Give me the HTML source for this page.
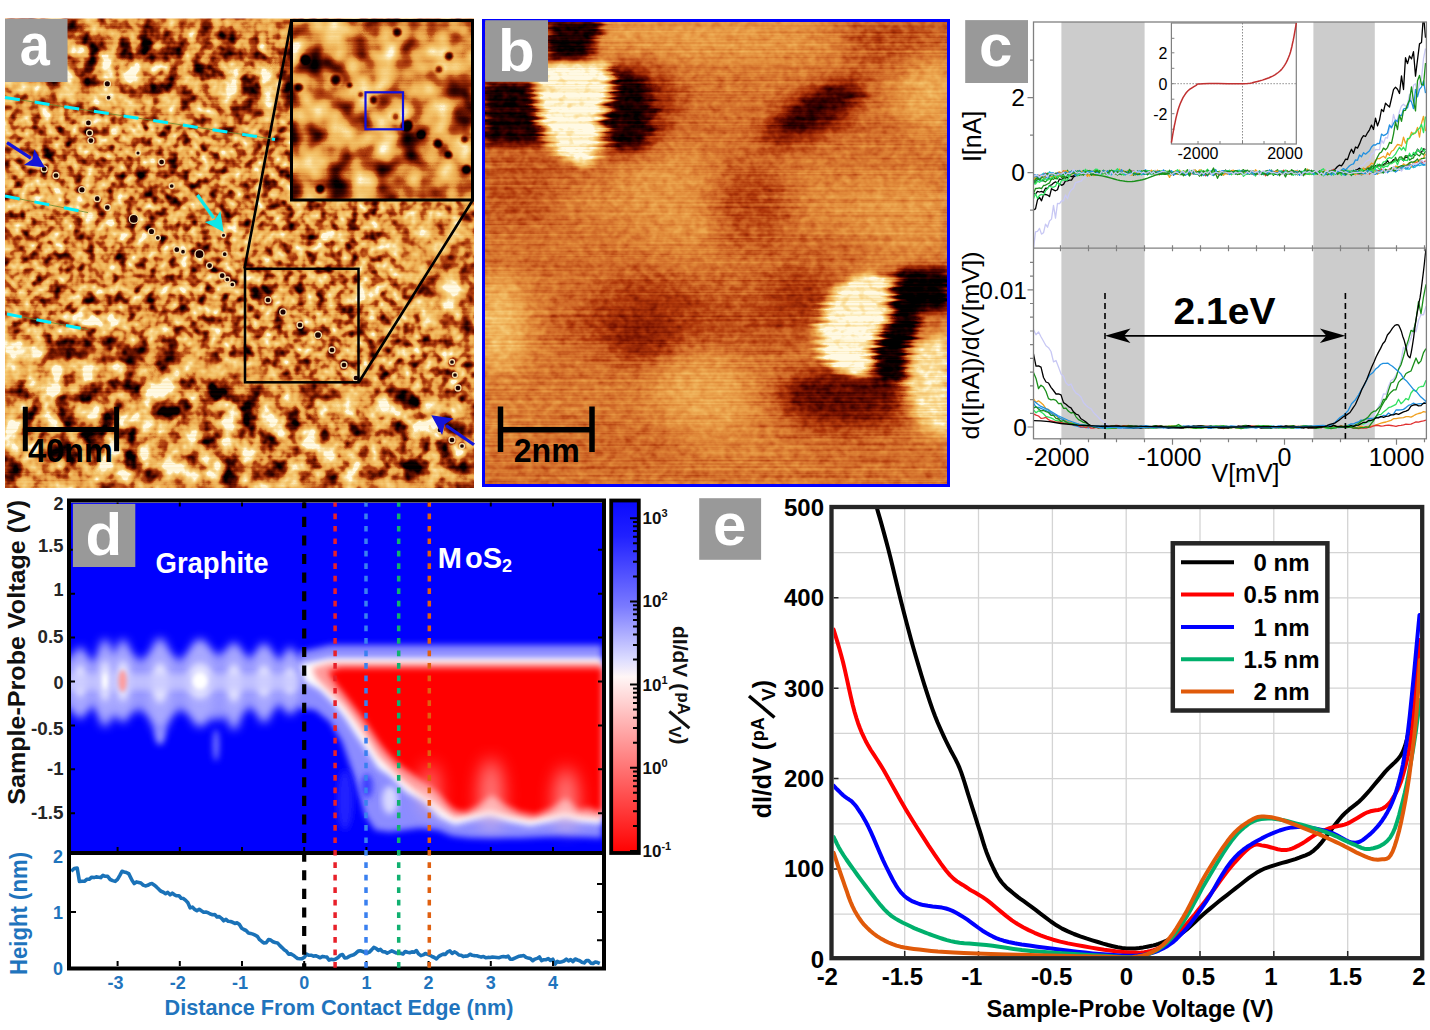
<!DOCTYPE html>
<html><head><meta charset="utf-8"><style>
html,body{margin:0;padding:0;background:#fff;}
body{width:1430px;height:1030px;overflow:hidden;font-family:"Liberation Sans",sans-serif;}
svg{display:block;}
</style></head><body>
<svg width="1430" height="1030" viewBox="0 0 1430 1030">
<defs><clipPath id="clipE"><rect x="833.7" y="509" width="586.3" height="447"/></clipPath></defs>
<path d="M904.7,509V956 M978.5,509V956 M1052.4,509V956 M1126.2,509V956 M1200.0,509V956 M1273.8,509V956 M1347.7,509V956 M833.7,914.2H1420 M833.7,869.0H1420 M833.7,823.8H1420 M833.7,778.6H1420 M833.7,733.4H1420 M833.7,688.2H1420 M833.7,643.0H1420 M833.7,597.8H1420 M833.7,552.6H1420" stroke="#d4d4d4" stroke-width="1.3" fill="none"/>
<path d="M904.7,956V951 M978.5,956V951 M1052.4,956V951 M1126.2,956V951 M1200.0,956V951 M1273.8,956V951 M1347.7,956V951 M833.7,869.0H838.5 M833.7,778.6H838.5 M833.7,688.2H838.5 M833.7,597.8H838.5" stroke="#262626" stroke-width="1.5" fill="none"/>
<g clip-path="url(#clipE)" fill="none" stroke-width="4" stroke-linejoin="round" stroke-linecap="round">
<polyline points="874.5,500.0 874.7,500.5 874.8,500.9 875.0,501.5 875.4,502.7 876.0,504.7 876.9,508.0 878.2,512.6 879.9,518.4 881.8,525.1 883.8,532.4 885.9,540.1 888.0,548.0 890.1,556.3 892.3,565.2 894.5,574.5 896.8,584.0 899.1,593.4 901.4,602.7 903.7,611.8 906.1,620.9 908.5,630.0 910.9,639.0 913.4,648.0 916.0,657.0 918.7,666.1 921.5,675.5 924.4,684.8 927.3,693.9 930.1,702.3 932.7,709.8 935.1,716.3 937.4,722.0 939.6,727.0 941.7,731.7 943.8,736.3 946.0,741.0 948.3,745.7 950.6,750.2 953.0,754.6 955.3,758.9 957.5,763.3 959.5,767.9 961.3,772.6 962.9,777.3 964.4,782.0 965.9,786.9 967.4,791.9 969.0,797.0 970.7,802.4 972.5,808.1 974.4,813.9 976.2,819.7 977.9,825.2 979.6,830.4 981.1,835.1 982.4,839.6 983.7,843.8 985.0,847.9 986.4,851.9 988.0,856.0 989.7,860.2 991.6,864.4 993.5,868.5 995.5,872.5 997.5,876.2 999.6,879.5 1001.7,882.3 1003.8,884.7 1005.9,886.9 1008.1,888.9 1010.5,890.9 1013.0,893.0 1015.6,895.1 1018.1,897.1 1020.8,899.1 1023.8,901.2 1027.1,903.6 1030.9,906.3 1035.3,909.6 1040.1,913.4 1045.4,917.4 1050.9,921.5 1056.5,925.3 1062.1,928.6 1067.9,931.4 1074.0,934.0 1080.2,936.3 1086.3,938.4 1092.3,940.3 1097.9,942.0 1103.1,943.6 1108.1,945.0 1112.9,946.2 1117.6,947.3 1122.1,948.0 1126.5,948.5 1130.9,948.6 1135.2,948.4 1139.3,948.0 1143.3,947.4 1147.1,946.7 1150.5,946.0 1153.5,945.4 1156.1,944.7 1158.4,943.9 1160.7,943.0 1163.0,942.1 1165.6,941.0 1168.3,939.9 1171.1,938.7 1174.0,937.5 1176.9,936.0 1180.0,934.3 1183.3,932.1 1186.8,929.4 1190.4,926.2 1194.2,922.8 1198.1,919.1 1202.0,915.5 1206.0,912.0 1210.1,908.6 1214.2,905.2 1218.4,901.8 1222.7,898.4 1227.0,895.1 1231.2,891.8 1235.5,888.4 1239.9,885.0 1244.3,881.5 1248.6,878.2 1252.6,875.3 1256.4,872.8 1259.7,870.9 1262.6,869.5 1265.2,868.3 1267.9,867.4 1270.8,866.4 1274.1,865.3 1278.0,864.1 1282.2,862.9 1286.7,861.7 1291.2,860.4 1295.4,859.1 1299.3,857.7 1302.6,856.4 1305.5,855.3 1308.2,854.2 1310.8,852.7 1313.7,850.6 1317.0,847.6 1320.8,843.4 1325.0,838.1 1329.4,832.3 1333.9,826.3 1338.2,820.7 1342.2,816.0 1345.8,812.4 1349.2,809.4 1352.5,806.9 1355.7,804.4 1358.9,801.7 1362.4,798.4 1366.1,794.4 1370.0,790.0 1373.9,785.3 1377.8,780.6 1381.6,776.1 1385.1,771.9 1388.4,768.4 1391.7,765.3 1394.8,762.4 1397.7,759.4 1400.4,755.9 1402.8,751.7 1404.8,746.5 1406.6,740.6 1408.0,734.3 1409.4,727.7 1410.7,721.2 1412.0,715.0 1413.4,708.7 1414.9,701.9 1416.3,695.2 1417.6,689.0 1418.7,683.8 1419.5,680.0" stroke="#000000"/>
<polyline points="833.6,629.5 834.6,632.8 836.0,637.3 837.6,642.6 839.4,648.7 841.2,655.2 843.0,662.0 844.8,669.6 846.7,678.1 848.7,687.2 850.7,696.2 852.7,704.7 854.6,712.0 856.4,718.0 858.1,723.2 859.8,727.8 861.5,732.1 863.5,736.4 865.7,741.0 868.2,745.6 870.8,750.0 873.7,754.4 876.7,759.0 880.0,764.1 883.6,770.0 887.4,776.7 891.5,784.1 895.9,792.0 900.5,800.2 905.3,808.6 910.4,817.0 916.0,826.0 922.2,835.7 928.6,845.7 935.0,855.2 940.9,863.6 946.0,870.5 950.2,875.4 953.8,878.9 957.0,881.3 959.9,883.2 962.8,884.9 966.0,887.0 969.2,889.2 972.3,891.1 975.5,892.8 978.7,894.7 982.3,896.9 986.3,899.6 990.8,903.1 995.7,907.2 1000.9,911.6 1006.4,916.1 1011.9,920.3 1017.5,924.0 1023.1,927.2 1028.7,930.1 1034.5,932.8 1040.5,935.3 1046.7,937.6 1053.2,939.7 1060.3,941.6 1067.9,943.4 1075.8,944.9 1083.6,946.3 1091.1,947.6 1097.9,948.7 1104.1,949.7 1110.0,950.5 1115.5,951.3 1120.6,951.8 1125.5,952.2 1130.0,952.5 1134.1,952.6 1137.8,952.7 1141.2,952.5 1144.3,952.2 1147.4,951.7 1150.5,951.0 1153.6,950.1 1156.5,949.0 1159.3,947.8 1162.1,946.2 1165.0,944.4 1168.1,942.2 1171.3,939.6 1174.6,936.5 1178.0,933.1 1181.5,929.5 1184.9,925.8 1188.3,922.0 1191.6,918.1 1194.9,914.2 1198.2,910.0 1201.6,905.8 1205.0,901.4 1208.5,896.8 1212.2,891.9 1216.0,886.7 1219.8,881.3 1223.7,876.0 1227.5,871.0 1231.2,866.5 1234.8,862.3 1238.4,858.3 1241.9,854.6 1245.3,851.3 1248.5,848.5 1251.4,846.4 1253.9,845.1 1255.9,844.6 1257.7,844.6 1259.5,844.9 1261.5,845.4 1264.0,845.8 1267.0,846.3 1270.4,847.2 1273.9,848.2 1277.6,849.2 1281.0,849.9 1284.2,850.1 1287.0,849.9 1289.5,849.4 1291.9,848.6 1294.3,847.6 1296.7,846.4 1299.3,845.1 1302.1,843.5 1305.1,841.6 1308.1,839.5 1311.2,837.4 1314.2,835.4 1317.0,833.7 1319.7,832.3 1322.2,831.1 1324.7,830.1 1327.2,829.1 1329.6,828.2 1332.1,827.4 1334.6,826.7 1337.0,826.2 1339.4,825.8 1341.9,825.3 1344.5,824.6 1347.3,823.6 1350.4,822.1 1353.9,820.1 1357.4,818.0 1361.0,815.8 1364.4,813.8 1367.5,812.3 1370.4,811.3 1373.1,810.7 1375.7,810.3 1378.1,810.0 1380.4,809.4 1382.6,808.5 1384.6,807.3 1386.3,806.1 1388.0,804.6 1389.5,802.9 1391.1,800.9 1392.7,798.4 1394.4,795.6 1396.1,792.6 1397.8,789.3 1399.5,785.4 1401.2,781.0 1402.8,775.7 1404.4,769.9 1406.0,763.8 1407.6,757.1 1409.1,749.4 1410.6,740.4 1412.0,730.0 1413.4,716.5 1414.9,699.9 1416.3,682.1 1417.6,665.0 1418.7,650.3 1419.5,640.0" stroke="#ff0000"/>
<polyline points="833.6,785.7 834.7,786.8 836.1,788.3 837.8,790.0 839.7,791.9 841.6,793.8 843.4,795.5 845.2,796.9 846.9,798.1 848.8,799.3 850.7,800.6 852.6,802.3 854.6,804.5 856.7,807.1 858.7,810.1 860.9,813.3 863.1,817.0 865.5,821.2 868.0,826.0 870.7,831.7 873.7,838.4 876.8,845.7 879.9,853.0 882.9,859.9 885.8,866.0 888.5,871.4 891.1,876.5 893.6,881.3 896.1,885.6 898.7,889.5 901.4,892.9 904.1,895.7 906.9,898.0 909.7,899.8 912.6,901.4 915.8,902.7 919.3,904.0 923.3,905.1 927.9,905.8 932.6,906.4 937.4,906.9 942.0,907.6 946.0,908.5 949.4,909.7 952.5,910.9 955.2,912.3 957.9,913.8 960.8,915.5 963.9,917.4 967.4,919.7 971.0,922.3 974.8,925.2 978.7,928.0 982.5,930.7 986.3,933.0 989.8,934.9 992.9,936.6 996.1,938.1 999.5,939.4 1003.6,940.7 1008.6,942.0 1014.7,943.3 1021.7,944.5 1029.4,945.6 1037.3,946.7 1045.4,947.7 1053.2,948.7 1061.0,949.7 1069.0,950.7 1077.0,951.7 1085.0,952.6 1092.7,953.4 1100.0,954.0 1107.0,954.6 1113.8,955.1 1120.3,955.5 1126.5,955.8 1132.4,955.8 1137.9,955.5 1142.9,954.9 1147.4,954.1 1151.6,953.1 1155.5,951.8 1159.3,950.3 1163.1,948.5 1166.7,946.5 1170.1,944.2 1173.4,941.8 1176.6,938.9 1179.8,935.7 1183.3,932.1 1186.9,928.0 1190.6,923.4 1194.3,918.5 1198.2,913.2 1202.0,907.7 1206.0,901.9 1210.1,895.5 1214.2,888.4 1218.4,881.1 1222.7,873.8 1227.0,867.2 1231.2,861.5 1235.3,856.9 1239.2,853.0 1243.2,849.7 1247.2,846.8 1251.6,844.1 1256.4,841.3 1261.7,838.4 1267.4,835.5 1273.5,832.8 1279.6,830.5 1285.8,828.6 1291.8,827.4 1297.8,826.9 1303.9,827.1 1310.1,827.7 1316.1,828.7 1321.8,829.9 1327.1,831.2 1332.0,832.9 1336.6,835.1 1341.0,837.5 1345.0,839.8 1348.8,841.6 1352.3,842.6 1355.4,842.7 1358.0,842.3 1360.4,841.4 1362.6,840.1 1364.9,838.4 1367.5,836.3 1370.4,833.9 1373.4,831.0 1376.5,827.7 1379.5,824.1 1382.4,820.2 1385.1,816.1 1387.5,811.9 1389.8,807.6 1391.9,803.0 1393.9,798.0 1395.9,792.3 1397.8,785.8 1399.6,779.0 1401.3,772.2 1402.9,764.8 1404.4,756.1 1406.1,745.6 1407.8,732.8 1409.8,715.6 1412.0,694.0 1414.3,670.6 1416.4,647.9 1418.2,628.6 1419.5,615.0" stroke="#0000ff"/>
<polyline points="833.6,837.0 834.5,838.8 835.7,841.2 837.1,844.1 838.8,847.4 840.9,851.0 843.4,855.0 846.4,859.5 849.9,864.5 853.8,869.9 857.8,875.5 861.8,880.9 865.7,886.0 869.4,890.9 873.1,895.8 876.8,900.6 880.6,905.2 884.3,909.3 888.0,913.0 891.7,916.1 895.5,918.6 899.2,920.8 902.9,922.7 906.7,924.5 910.4,926.3 914.1,928.1 917.8,929.7 921.6,931.2 925.3,932.6 929.0,934.0 932.7,935.3 936.3,936.6 939.8,937.8 943.3,939.0 946.9,940.1 950.8,941.1 955.0,942.0 959.5,942.7 964.3,943.2 969.3,943.5 974.5,943.9 980.2,944.4 986.3,945.0 992.7,945.8 999.3,946.8 1006.2,947.8 1013.7,948.9 1021.9,950.0 1030.9,950.9 1041.4,951.8 1053.3,952.7 1065.9,953.5 1078.4,954.3 1090.0,955.0 1100.0,955.5 1108.3,956.0 1115.4,956.5 1121.7,956.9 1127.4,957.2 1132.7,957.0 1137.9,956.5 1142.9,955.6 1147.4,954.4 1151.6,952.8 1155.5,950.9 1159.3,948.7 1163.1,946.0 1166.7,943.0 1170.1,939.6 1173.4,935.9 1176.6,931.7 1179.8,927.1 1183.3,922.0 1186.9,916.2 1190.6,909.8 1194.3,902.9 1198.2,895.7 1202.0,888.6 1206.0,881.7 1210.1,874.7 1214.4,867.4 1218.8,860.2 1223.1,853.2 1227.3,846.8 1231.2,841.3 1234.9,836.7 1238.3,832.8 1241.6,829.6 1244.9,826.8 1248.1,824.4 1251.4,822.4 1254.7,820.8 1257.9,819.7 1261.2,819.0 1264.5,818.7 1267.9,818.5 1271.6,818.6 1275.5,818.9 1279.4,819.5 1283.6,820.3 1287.8,821.3 1292.2,822.4 1296.8,823.6 1301.6,824.8 1306.7,826.2 1311.9,827.7 1317.2,829.2 1322.3,830.8 1327.1,832.5 1331.7,834.3 1336.2,836.3 1340.5,838.4 1344.6,840.4 1348.6,842.2 1352.3,843.8 1355.7,845.2 1358.7,846.6 1361.5,847.8 1364.2,848.7 1367.0,849.1 1370.0,848.9 1373.3,848.2 1376.8,847.3 1380.4,845.8 1383.9,843.8 1387.2,841.0 1390.2,837.5 1392.8,833.0 1395.1,827.7 1397.1,821.6 1399.1,815.1 1400.9,808.1 1402.8,800.9 1404.7,793.3 1406.5,785.1 1408.2,776.6 1409.8,767.8 1411.4,759.1 1412.9,750.5 1414.3,741.5 1415.8,731.8 1417.1,722.1 1418.3,713.1 1419.3,705.5 1420.0,700.0" stroke="#00b06c"/>
<polyline points="833.6,852.7 834.7,855.9 836.1,860.2 837.8,865.4 839.7,871.0 841.6,876.5 843.4,881.7 845.1,886.6 846.9,891.7 848.6,896.8 850.5,901.7 852.5,906.4 854.6,910.7 856.9,914.6 859.2,918.3 861.7,921.7 864.3,924.9 867.2,927.9 870.2,930.8 873.5,933.5 877.0,936.1 880.7,938.4 884.5,940.6 888.4,942.5 892.5,944.2 896.5,945.6 900.4,946.7 904.5,947.5 908.9,948.2 913.8,948.9 919.3,949.6 925.2,950.3 931.3,950.9 937.9,951.5 945.3,952.0 953.9,952.5 963.9,953.0 976.3,953.5 990.9,954.0 1006.6,954.4 1022.4,954.8 1037.3,955.2 1050.0,955.5 1060.6,955.8 1069.8,956.0 1078.0,956.2 1085.6,956.3 1092.8,956.4 1100.0,956.5 1107.2,956.7 1114.0,957.0 1120.5,957.3 1126.7,957.4 1132.5,957.2 1137.9,956.5 1142.9,955.4 1147.4,954.1 1151.6,952.4 1155.5,950.3 1159.3,947.8 1163.1,944.8 1166.7,941.3 1170.1,937.3 1173.4,932.9 1176.6,928.0 1179.8,922.7 1183.3,917.0 1186.9,910.7 1190.6,903.6 1194.3,896.1 1198.2,888.5 1202.0,881.0 1206.0,874.0 1210.1,867.2 1214.4,860.3 1218.8,853.5 1223.1,847.1 1227.3,841.3 1231.2,836.3 1234.9,832.2 1238.6,828.8 1242.1,825.9 1245.4,823.6 1248.5,821.6 1251.4,819.9 1253.9,818.5 1256.0,817.6 1257.9,817.0 1259.7,816.7 1261.7,816.6 1264.0,816.6 1266.5,816.7 1269.0,816.9 1271.6,817.3 1274.5,817.9 1277.8,818.7 1281.7,819.9 1286.4,821.5 1291.8,823.5 1297.6,825.7 1303.6,828.1 1309.3,830.4 1314.5,832.5 1319.1,834.4 1323.5,836.3 1327.6,838.2 1331.6,840.0 1335.6,841.9 1339.7,843.8 1344.0,845.9 1348.5,848.3 1353.0,850.6 1357.3,852.9 1361.4,854.8 1365.0,856.4 1368.1,857.6 1370.9,858.6 1373.3,859.2 1375.6,859.6 1377.8,859.7 1380.1,859.5 1382.3,859.3 1384.5,859.2 1386.6,858.8 1388.6,857.7 1390.6,855.3 1392.7,851.4 1394.8,845.7 1397.0,838.6 1399.2,830.4 1401.3,821.2 1403.3,811.3 1405.3,800.9 1407.2,789.6 1409.1,777.1 1410.8,764.0 1412.5,750.6 1414.1,737.5 1415.4,725.2 1416.5,713.0 1417.5,700.3 1418.3,687.9 1419.0,676.5 1419.6,667.0 1420.0,660.0" stroke="#e05a0a"/>
</g>
<rect x="831.5" y="507" width="590.7" height="451.2" fill="none" stroke="#262626" stroke-width="4.3"/>
<text x="824" y="967.8" font-family="Liberation Sans, sans-serif" font-size="24" font-weight="bold" fill="#000" text-anchor="end" >0</text>
<text x="824" y="877.4" font-family="Liberation Sans, sans-serif" font-size="24" font-weight="bold" fill="#000" text-anchor="end" >100</text>
<text x="824" y="787.0" font-family="Liberation Sans, sans-serif" font-size="24" font-weight="bold" fill="#000" text-anchor="end" >200</text>
<text x="824" y="696.6" font-family="Liberation Sans, sans-serif" font-size="24" font-weight="bold" fill="#000" text-anchor="end" >300</text>
<text x="824" y="606.2" font-family="Liberation Sans, sans-serif" font-size="24" font-weight="bold" fill="#000" text-anchor="end" >400</text>
<text x="824" y="515.8" font-family="Liberation Sans, sans-serif" font-size="24" font-weight="bold" fill="#000" text-anchor="end" >500</text>
<text x="827.3" y="985.2" font-family="Liberation Sans, sans-serif" font-size="24" font-weight="bold" fill="#000" text-anchor="middle" >-2</text>
<text x="902.4" y="985.2" font-family="Liberation Sans, sans-serif" font-size="24" font-weight="bold" fill="#000" text-anchor="middle" >-1.5</text>
<text x="971.8" y="985.2" font-family="Liberation Sans, sans-serif" font-size="24" font-weight="bold" fill="#000" text-anchor="middle" >-1</text>
<text x="1051.8" y="985.2" font-family="Liberation Sans, sans-serif" font-size="24" font-weight="bold" fill="#000" text-anchor="middle" >-0.5</text>
<text x="1126.5" y="985.2" font-family="Liberation Sans, sans-serif" font-size="24" font-weight="bold" fill="#000" text-anchor="middle" >0</text>
<text x="1198.5" y="985.2" font-family="Liberation Sans, sans-serif" font-size="24" font-weight="bold" fill="#000" text-anchor="middle" >0.5</text>
<text x="1271" y="985.2" font-family="Liberation Sans, sans-serif" font-size="24" font-weight="bold" fill="#000" text-anchor="middle" >1</text>
<text x="1345.5" y="985.2" font-family="Liberation Sans, sans-serif" font-size="24" font-weight="bold" fill="#000" text-anchor="middle" >1.5</text>
<text x="1419" y="985.2" font-family="Liberation Sans, sans-serif" font-size="24" font-weight="bold" fill="#000" text-anchor="middle" >2</text>
<text x="1130" y="1017" font-family="Liberation Sans, sans-serif" font-size="24" font-weight="bold" fill="#000" text-anchor="middle" textLength="287" lengthAdjust="spacingAndGlyphs">Sample-Probe Voltage (V)</text>
<g font-family="Liberation Sans, sans-serif" font-weight="bold" fill="#000"><text transform="translate(771,818.3) rotate(-90)" font-size="25">dI/dV (</text><text transform="translate(771,741.3) rotate(-90)" y="-7" font-size="18">pA</text><text transform="translate(771,701) rotate(-90)" y="4" font-size="19">V</text><text transform="translate(771,688.3) rotate(-90)" font-size="25">)</text></g>
<line x1="774.5" y1="717.5" x2="749" y2="696" stroke="#000" stroke-width="3.4"/>
<rect x="1172.8" y="543.3" width="154.6" height="167.2" fill="#fff" stroke="#262626" stroke-width="4.5"/>
<line x1="1181" y1="562.3" x2="1234" y2="562.3" stroke="#000000" stroke-width="4"/>
<text x="1281.5" y="570.9" font-family="Liberation Sans, sans-serif" font-size="24" font-weight="bold" fill="#000" text-anchor="middle" >0 nm</text>
<line x1="1181" y1="594.6" x2="1234" y2="594.6" stroke="#ff0000" stroke-width="4"/>
<text x="1281.5" y="603.2" font-family="Liberation Sans, sans-serif" font-size="24" font-weight="bold" fill="#000" text-anchor="middle" >0.5 nm</text>
<line x1="1181" y1="626.9" x2="1234" y2="626.9" stroke="#0000ff" stroke-width="4"/>
<text x="1281.5" y="635.5" font-family="Liberation Sans, sans-serif" font-size="24" font-weight="bold" fill="#000" text-anchor="middle" >1 nm</text>
<line x1="1181" y1="659.2" x2="1234" y2="659.2" stroke="#00b06c" stroke-width="4"/>
<text x="1281.5" y="667.8000000000001" font-family="Liberation Sans, sans-serif" font-size="24" font-weight="bold" fill="#000" text-anchor="middle" >1.5 nm</text>
<line x1="1181" y1="691.4" x2="1234" y2="691.4" stroke="#e05a0a" stroke-width="4"/>
<text x="1281.5" y="700.0" font-family="Liberation Sans, sans-serif" font-size="24" font-weight="bold" fill="#000" text-anchor="middle" >2 nm</text>
<rect x="699.2" y="498.2" width="61.9" height="61.6" fill="#999999"/>
<text x="729.65" y="544.5" font-family="Liberation Sans, sans-serif" font-weight="bold" font-size="60" fill="#ffffff" text-anchor="middle">e</text>
<rect x="965.2" y="20.1" width="62.8" height="62.9" fill="#999999"/>
<text x="995.8" y="66.4" font-family="Liberation Sans, sans-serif" font-weight="bold" font-size="60" fill="#ffffff" text-anchor="middle">c</text>
<defs><clipPath id="clipCt"><rect x="1033.5" y="22" width="392.9000000000001" height="226.2"/></clipPath><clipPath id="clipCb"><rect x="1033.5" y="248.2" width="392.9000000000001" height="190.60000000000002"/></clipPath></defs>
<rect x="1061.4" y="22" width="83.19999999999982" height="416.8" fill="#cccccc"/>
<rect x="1313.4" y="22" width="61.399999999999864" height="416.8" fill="#cccccc"/>
<g clip-path="url(#clipCt)" fill="none" stroke-linejoin="round">
<polyline points="1033.5,248.9 1035.5,231.9 1037.5,231.3 1039.5,228.4 1041.5,234.1 1043.5,232.8 1045.5,224.2 1047.5,227.2 1049.5,221.0 1051.5,219.1 1053.5,205.3 1055.5,218.1 1057.5,203.4 1059.5,203.7 1061.5,201.0 1063.5,200.9 1065.5,195.0 1067.5,198.8 1069.5,192.6 1071.5,189.7 1073.5,188.3 1075.5,182.7 1077.5,182.0 1079.5,181.5 1081.5,180.9 1083.5,177.8 1085.5,177.5 1087.5,174.1 1089.5,175.0 1091.5,173.0 1093.5,174.0 1095.5,172.2 1097.5,171.4 1099.5,172.1 1101.5,171.7 1103.5,173.5 1105.5,172.5 1107.5,173.9 1109.5,172.8 1111.5,171.5 1113.5,172.6 1115.5,172.5 1117.5,173.1 1119.5,171.0 1121.5,172.9 1123.5,173.5 1125.5,172.3 1127.5,172.0 1129.5,171.1 1131.5,173.5 1133.5,172.8 1135.5,172.8 1137.5,173.1 1139.5,172.3 1141.5,174.8 1143.5,171.6 1145.5,171.7 1147.5,172.0 1149.5,171.9 1151.5,173.0 1153.5,170.6 1155.5,170.3 1157.5,172.0 1159.5,172.4 1161.5,173.6 1163.5,172.5 1165.5,171.8 1167.5,173.9 1169.5,172.6 1171.5,173.3 1173.5,171.7 1175.5,173.7 1177.5,171.7 1179.5,171.1 1181.5,173.7 1183.5,174.0 1185.5,171.5 1187.5,173.9 1189.5,174.2 1191.5,172.3 1193.5,173.0 1195.5,171.9 1197.5,173.6 1199.5,171.8 1201.5,171.6 1203.5,173.5 1205.5,172.2 1207.5,172.0 1209.5,172.0 1211.5,171.7 1213.5,172.1 1215.5,172.9 1217.5,172.4 1219.5,172.9 1221.5,173.8 1223.5,173.7 1225.5,173.1 1227.5,172.7 1229.5,173.8 1231.5,172.5 1233.5,173.0 1235.5,173.6 1237.5,174.3 1239.5,173.1 1241.5,172.3 1243.5,172.8 1245.5,172.8 1247.5,171.3 1249.5,173.6 1251.5,173.7 1253.5,171.9 1255.5,174.7 1257.5,173.4 1259.5,173.8 1261.5,174.3 1263.5,172.5 1265.5,172.0 1267.5,172.7 1269.5,173.0 1271.5,173.2 1273.5,171.9 1275.5,171.8 1277.5,172.8 1279.5,171.7 1281.5,170.9 1283.5,172.5 1285.5,172.3 1287.5,172.4 1289.5,171.0 1291.5,174.8 1293.5,173.5 1295.5,172.8 1297.5,170.0 1299.5,173.8 1301.5,171.7 1303.5,172.8 1305.5,172.5 1307.5,172.0 1309.5,173.3 1311.5,173.4 1313.5,173.0 1315.5,172.4 1317.5,172.2 1319.5,171.9 1321.5,172.8 1323.5,172.4 1325.5,172.7 1327.5,169.6 1329.5,172.8 1331.5,173.3 1333.5,171.5 1335.5,172.5 1337.5,171.9 1339.5,174.0 1341.5,171.7 1343.5,172.0 1345.5,172.1 1347.5,172.7 1349.5,173.8 1351.5,173.5 1353.5,172.6 1355.5,170.4 1357.5,168.6 1359.5,166.7 1361.5,165.5 1363.5,164.9 1365.5,162.3 1367.5,160.6 1369.5,160.2 1371.5,154.1 1373.5,153.1 1375.5,149.5 1377.5,149.6 1379.5,149.5 1381.5,140.1 1383.5,143.3 1385.5,137.6 1387.5,138.0 1389.5,127.6 1391.5,127.6 1393.5,114.5 1395.5,121.7 1397.5,119.8 1399.5,111.4 1401.5,105.9 1403.5,104.3 1405.5,106.3 1407.5,104.7 1409.5,94.4 1411.5,102.4 1413.5,85.3 1415.5,83.8 1417.5,94.8 1419.5,81.8 1421.5,78.9 1423.5,58.7 1425.5,48.5" stroke="#c8c8f4" stroke-width="1.3"/>
<polyline points="1033.5,193.5 1035.5,194.2 1037.5,191.4 1039.5,192.0 1041.5,191.4 1043.5,192.3 1045.5,188.2 1047.5,188.5 1049.5,185.5 1051.5,184.9 1053.5,183.1 1055.5,181.8 1057.5,183.2 1059.5,179.0 1061.5,179.6 1063.5,178.2 1065.5,177.0 1067.5,177.8 1069.5,175.3 1071.5,176.7 1073.5,175.8 1075.5,174.3 1077.5,173.7 1079.5,173.9 1081.5,172.6 1083.5,172.1 1085.5,171.0 1087.5,172.0 1089.5,172.2 1091.5,172.9 1093.5,173.3 1095.5,174.1 1097.5,172.8 1099.5,172.2 1101.5,173.1 1103.5,172.9 1105.5,172.9 1107.5,173.3 1109.5,172.9 1111.5,174.2 1113.5,172.4 1115.5,171.4 1117.5,172.4 1119.5,172.3 1121.5,174.2 1123.5,172.6 1125.5,174.3 1127.5,173.2 1129.5,173.6 1131.5,172.7 1133.5,171.5 1135.5,171.6 1137.5,172.8 1139.5,172.4 1141.5,171.7 1143.5,171.6 1145.5,172.3 1147.5,173.2 1149.5,173.1 1151.5,173.0 1153.5,173.1 1155.5,172.0 1157.5,172.0 1159.5,172.3 1161.5,172.1 1163.5,173.3 1165.5,172.1 1167.5,172.5 1169.5,171.8 1171.5,172.5 1173.5,175.0 1175.5,172.5 1177.5,172.3 1179.5,172.1 1181.5,172.7 1183.5,174.4 1185.5,173.4 1187.5,172.0 1189.5,172.3 1191.5,172.6 1193.5,173.7 1195.5,172.5 1197.5,171.8 1199.5,172.8 1201.5,172.5 1203.5,172.4 1205.5,172.5 1207.5,172.9 1209.5,173.1 1211.5,172.8 1213.5,172.5 1215.5,171.7 1217.5,172.4 1219.5,173.0 1221.5,172.2 1223.5,172.0 1225.5,171.0 1227.5,171.7 1229.5,173.5 1231.5,172.2 1233.5,172.8 1235.5,171.6 1237.5,173.7 1239.5,173.4 1241.5,172.8 1243.5,172.4 1245.5,173.3 1247.5,172.7 1249.5,171.8 1251.5,173.5 1253.5,173.8 1255.5,173.3 1257.5,173.3 1259.5,173.3 1261.5,172.7 1263.5,173.0 1265.5,174.1 1267.5,172.7 1269.5,173.1 1271.5,172.8 1273.5,174.3 1275.5,173.3 1277.5,172.0 1279.5,172.3 1281.5,173.1 1283.5,170.9 1285.5,172.8 1287.5,172.4 1289.5,172.2 1291.5,172.7 1293.5,172.8 1295.5,172.7 1297.5,174.3 1299.5,173.5 1301.5,173.1 1303.5,173.0 1305.5,172.3 1307.5,172.4 1309.5,172.4 1311.5,172.6 1313.5,170.8 1315.5,171.2 1317.5,173.5 1319.5,172.6 1321.5,172.4 1323.5,171.8 1325.5,173.9 1327.5,172.6 1329.5,172.3 1331.5,173.7 1333.5,173.4 1335.5,173.3 1337.5,173.2 1339.5,172.8 1341.5,172.9 1343.5,173.1 1345.5,170.2 1347.5,171.7 1349.5,171.8 1351.5,171.1 1353.5,171.6 1355.5,170.2 1357.5,169.5 1359.5,168.1 1361.5,170.3 1363.5,168.8 1365.5,169.5 1367.5,168.0 1369.5,168.5 1371.5,167.1 1373.5,167.4 1375.5,165.8 1377.5,165.4 1379.5,165.8 1381.5,165.1 1383.5,164.5 1385.5,163.3 1387.5,160.6 1389.5,163.7 1391.5,162.2 1393.5,159.7 1395.5,160.1 1397.5,160.3 1399.5,159.6 1401.5,159.1 1403.5,160.8 1405.5,156.7 1407.5,157.8 1409.5,154.9 1411.5,156.4 1413.5,154.1 1415.5,155.0 1417.5,149.1 1419.5,151.9 1421.5,152.2 1423.5,148.8 1425.5,149.5" stroke="#000000" stroke-width="1.3"/>
<polyline points="1033.5,209.8 1035.5,208.8 1037.5,199.8 1039.5,197.4 1041.5,200.8 1043.5,194.7 1045.5,194.3 1047.5,195.1 1049.5,196.6 1051.5,188.7 1053.5,189.9 1055.5,190.8 1057.5,189.7 1059.5,183.8 1061.5,185.3 1063.5,184.3 1065.5,180.9 1067.5,180.8 1069.5,180.2 1071.5,180.1 1073.5,176.9 1075.5,176.0 1077.5,174.6 1079.5,175.4 1081.5,172.6 1083.5,172.7 1085.5,173.9 1087.5,171.7 1089.5,171.2 1091.5,171.9 1093.5,173.6 1095.5,171.1 1097.5,173.1 1099.5,174.0 1101.5,173.2 1103.5,172.6 1105.5,173.1 1107.5,171.5 1109.5,172.8 1111.5,173.2 1113.5,172.6 1115.5,172.2 1117.5,172.9 1119.5,172.0 1121.5,172.5 1123.5,172.6 1125.5,172.2 1127.5,172.9 1129.5,173.1 1131.5,171.1 1133.5,172.2 1135.5,173.0 1137.5,172.8 1139.5,173.7 1141.5,173.4 1143.5,173.2 1145.5,172.8 1147.5,172.1 1149.5,172.0 1151.5,172.0 1153.5,172.9 1155.5,172.8 1157.5,172.8 1159.5,173.3 1161.5,173.1 1163.5,171.9 1165.5,174.0 1167.5,172.4 1169.5,173.4 1171.5,172.6 1173.5,173.7 1175.5,172.4 1177.5,173.4 1179.5,172.9 1181.5,172.7 1183.5,172.8 1185.5,171.6 1187.5,171.9 1189.5,172.4 1191.5,173.5 1193.5,173.6 1195.5,173.7 1197.5,173.7 1199.5,172.3 1201.5,172.8 1203.5,173.6 1205.5,172.8 1207.5,173.1 1209.5,171.9 1211.5,173.2 1213.5,172.1 1215.5,173.5 1217.5,172.1 1219.5,172.5 1221.5,173.7 1223.5,172.8 1225.5,170.1 1227.5,173.8 1229.5,170.5 1231.5,173.4 1233.5,173.1 1235.5,171.8 1237.5,171.5 1239.5,173.2 1241.5,172.0 1243.5,172.5 1245.5,171.9 1247.5,173.2 1249.5,172.5 1251.5,173.6 1253.5,173.1 1255.5,172.5 1257.5,172.6 1259.5,172.9 1261.5,172.0 1263.5,173.1 1265.5,174.7 1267.5,170.9 1269.5,172.5 1271.5,172.2 1273.5,171.4 1275.5,173.6 1277.5,172.0 1279.5,173.5 1281.5,172.4 1283.5,171.6 1285.5,173.8 1287.5,173.4 1289.5,171.5 1291.5,173.6 1293.5,172.4 1295.5,173.0 1297.5,171.8 1299.5,172.9 1301.5,173.3 1303.5,172.9 1305.5,173.5 1307.5,172.4 1309.5,172.6 1311.5,171.8 1313.5,173.9 1315.5,173.6 1317.5,172.0 1319.5,171.9 1321.5,172.3 1323.5,173.1 1325.5,172.3 1327.5,172.0 1329.5,172.9 1331.5,170.3 1333.5,170.2 1335.5,168.8 1337.5,166.5 1339.5,165.1 1341.5,165.8 1343.5,163.0 1345.5,159.2 1347.5,159.5 1349.5,153.6 1351.5,149.3 1353.5,153.3 1355.5,147.0 1357.5,148.1 1359.5,143.9 1361.5,138.7 1363.5,135.7 1365.5,136.5 1367.5,132.8 1369.5,129.8 1371.5,125.1 1373.5,129.5 1375.5,118.1 1377.5,125.9 1379.5,120.1 1381.5,109.5 1383.5,111.5 1385.5,103.1 1387.5,105.3 1389.5,107.0 1391.5,98.5 1393.5,89.6 1395.5,87.2 1397.5,89.2 1399.5,93.5 1401.5,75.9 1403.5,89.5 1405.5,57.7 1407.5,63.6 1409.5,56.0 1411.5,58.9 1413.5,51.7 1415.5,76.1 1417.5,59.9 1419.5,43.9 1421.5,42.5 1423.5,14.5 1425.5,37.8" stroke="#000000" stroke-width="1.3"/>
<polyline points="1033.5,181.2 1035.5,178.0 1037.5,179.1 1039.5,177.6 1041.5,176.4 1043.5,177.6 1045.5,177.8 1047.5,176.5 1049.5,176.2 1051.5,176.9 1053.5,175.9 1055.5,174.3 1057.5,172.6 1059.5,171.8 1061.5,173.8 1063.5,170.6 1065.5,172.0 1067.5,172.9 1069.5,173.6 1071.5,174.7 1073.5,170.6 1075.5,172.2 1077.5,173.4 1079.5,172.6 1081.5,173.1 1083.5,173.4 1085.5,173.9 1087.5,176.4 1089.5,170.5 1091.5,172.3 1093.5,170.9 1095.5,170.7 1097.5,170.6 1099.5,173.9 1101.5,174.4 1103.5,173.7 1105.5,170.9 1107.5,172.8 1109.5,170.9 1111.5,171.5 1113.5,171.8 1115.5,172.1 1117.5,171.6 1119.5,169.1 1121.5,171.5 1123.5,173.1 1125.5,172.7 1127.5,170.6 1129.5,174.4 1131.5,171.9 1133.5,172.3 1135.5,175.2 1137.5,172.1 1139.5,171.6 1141.5,173.3 1143.5,172.3 1145.5,172.2 1147.5,171.3 1149.5,171.6 1151.5,173.0 1153.5,174.1 1155.5,174.2 1157.5,170.1 1159.5,172.8 1161.5,172.3 1163.5,172.1 1165.5,170.7 1167.5,173.2 1169.5,177.4 1171.5,172.9 1173.5,172.9 1175.5,174.1 1177.5,174.1 1179.5,172.6 1181.5,172.6 1183.5,170.6 1185.5,173.2 1187.5,171.3 1189.5,173.3 1191.5,171.7 1193.5,172.1 1195.5,173.2 1197.5,172.2 1199.5,172.2 1201.5,173.9 1203.5,172.6 1205.5,172.5 1207.5,173.0 1209.5,174.3 1211.5,172.0 1213.5,172.0 1215.5,174.1 1217.5,172.0 1219.5,172.3 1221.5,171.5 1223.5,171.7 1225.5,173.7 1227.5,174.1 1229.5,171.6 1231.5,170.7 1233.5,170.2 1235.5,172.0 1237.5,173.3 1239.5,172.6 1241.5,174.4 1243.5,173.6 1245.5,174.5 1247.5,173.9 1249.5,172.5 1251.5,172.6 1253.5,172.4 1255.5,174.0 1257.5,171.4 1259.5,173.6 1261.5,174.1 1263.5,173.0 1265.5,172.2 1267.5,171.6 1269.5,172.8 1271.5,173.1 1273.5,171.9 1275.5,173.5 1277.5,174.5 1279.5,172.3 1281.5,171.2 1283.5,173.1 1285.5,172.5 1287.5,172.4 1289.5,174.4 1291.5,172.4 1293.5,173.6 1295.5,170.9 1297.5,171.0 1299.5,172.9 1301.5,173.4 1303.5,172.6 1305.5,172.0 1307.5,174.0 1309.5,174.7 1311.5,173.6 1313.5,174.6 1315.5,173.1 1317.5,172.6 1319.5,171.4 1321.5,171.9 1323.5,173.9 1325.5,174.3 1327.5,172.2 1329.5,171.5 1331.5,171.7 1333.5,172.9 1335.5,172.6 1337.5,174.0 1339.5,173.3 1341.5,173.7 1343.5,172.1 1345.5,174.3 1347.5,172.1 1349.5,171.4 1351.5,171.5 1353.5,172.2 1355.5,172.8 1357.5,171.8 1359.5,171.5 1361.5,171.3 1363.5,167.9 1365.5,170.4 1367.5,166.8 1369.5,165.9 1371.5,163.1 1373.5,164.2 1375.5,160.4 1377.5,158.6 1379.5,158.6 1381.5,157.3 1383.5,156.2 1385.5,158.1 1387.5,152.7 1389.5,155.3 1391.5,151.3 1393.5,150.2 1395.5,147.1 1397.5,144.5 1399.5,144.8 1401.5,146.1 1403.5,137.1 1405.5,143.2 1407.5,140.3 1409.5,138.4 1411.5,132.2 1413.5,134.2 1415.5,132.7 1417.5,127.4 1419.5,137.1 1421.5,123.3 1423.5,116.3 1425.5,131.1" stroke="#f0a020" stroke-width="1.3"/>
<polyline points="1033.5,183.8 1035.5,180.6 1037.5,180.0 1039.5,179.7 1041.5,181.0 1043.5,180.1 1045.5,177.4 1047.5,178.2 1049.5,176.1 1051.5,174.9 1053.5,174.8 1055.5,174.4 1057.5,175.7 1059.5,175.8 1061.5,174.6 1063.5,173.7 1065.5,174.3 1067.5,173.8 1069.5,173.0 1071.5,171.5 1073.5,171.0 1075.5,176.0 1077.5,173.2 1079.5,173.7 1081.5,173.0 1083.5,172.2 1085.5,172.7 1087.5,172.9 1089.5,174.1 1091.5,172.3 1093.5,171.2 1095.5,172.4 1097.5,173.6 1099.5,174.2 1101.5,173.4 1103.5,170.7 1105.5,172.3 1107.5,173.3 1109.5,171.3 1111.5,173.9 1113.5,170.7 1115.5,171.8 1117.5,169.8 1119.5,171.1 1121.5,174.4 1123.5,172.8 1125.5,172.2 1127.5,173.3 1129.5,172.7 1131.5,172.8 1133.5,172.7 1135.5,171.7 1137.5,171.7 1139.5,173.1 1141.5,174.8 1143.5,171.5 1145.5,169.8 1147.5,171.4 1149.5,172.8 1151.5,172.8 1153.5,172.2 1155.5,173.4 1157.5,173.0 1159.5,172.4 1161.5,171.4 1163.5,173.7 1165.5,172.8 1167.5,172.9 1169.5,172.9 1171.5,171.9 1173.5,173.9 1175.5,174.2 1177.5,171.5 1179.5,173.5 1181.5,173.1 1183.5,172.1 1185.5,171.4 1187.5,174.4 1189.5,174.2 1191.5,172.8 1193.5,173.5 1195.5,174.3 1197.5,171.8 1199.5,172.8 1201.5,172.7 1203.5,173.5 1205.5,172.0 1207.5,172.6 1209.5,173.2 1211.5,172.6 1213.5,172.2 1215.5,172.8 1217.5,173.4 1219.5,174.5 1221.5,174.1 1223.5,173.8 1225.5,171.9 1227.5,170.9 1229.5,171.4 1231.5,174.0 1233.5,173.2 1235.5,170.8 1237.5,173.8 1239.5,170.3 1241.5,172.2 1243.5,171.7 1245.5,171.4 1247.5,173.6 1249.5,174.4 1251.5,172.8 1253.5,174.8 1255.5,173.2 1257.5,172.2 1259.5,172.8 1261.5,174.0 1263.5,174.1 1265.5,173.1 1267.5,173.5 1269.5,169.9 1271.5,171.7 1273.5,172.0 1275.5,172.9 1277.5,175.0 1279.5,172.1 1281.5,172.6 1283.5,172.7 1285.5,173.6 1287.5,172.9 1289.5,172.4 1291.5,171.9 1293.5,173.3 1295.5,173.2 1297.5,172.6 1299.5,173.3 1301.5,171.3 1303.5,172.5 1305.5,169.8 1307.5,172.2 1309.5,173.8 1311.5,171.7 1313.5,172.1 1315.5,172.9 1317.5,172.6 1319.5,173.2 1321.5,170.6 1323.5,172.5 1325.5,173.9 1327.5,172.8 1329.5,173.3 1331.5,172.4 1333.5,173.0 1335.5,173.5 1337.5,171.8 1339.5,171.1 1341.5,170.0 1343.5,168.6 1345.5,170.0 1347.5,167.9 1349.5,165.7 1351.5,164.5 1353.5,163.9 1355.5,159.8 1357.5,160.3 1359.5,154.9 1361.5,156.7 1363.5,152.7 1365.5,154.2 1367.5,152.4 1369.5,150.7 1371.5,147.0 1373.5,145.0 1375.5,145.0 1377.5,143.4 1379.5,143.6 1381.5,134.1 1383.5,135.7 1385.5,134.7 1387.5,133.0 1389.5,124.9 1391.5,127.8 1393.5,123.5 1395.5,120.1 1397.5,121.7 1399.5,115.2 1401.5,115.6 1403.5,109.1 1405.5,108.3 1407.5,107.9 1409.5,99.8 1411.5,101.9 1413.5,108.7 1415.5,89.4 1417.5,96.8 1419.5,89.3 1421.5,86.8 1423.5,80.9 1425.5,93.1" stroke="#2090e0" stroke-width="1.3"/>
<polyline points="1033.5,198.7 1035.5,193.7 1037.5,198.4 1039.5,195.3 1041.5,194.4 1043.5,195.0 1045.5,190.9 1047.5,188.7 1049.5,186.0 1051.5,187.1 1053.5,187.1 1055.5,186.2 1057.5,182.0 1059.5,185.2 1061.5,180.2 1063.5,179.9 1065.5,180.4 1067.5,179.8 1069.5,175.9 1071.5,173.8 1073.5,173.2 1075.5,172.7 1077.5,176.0 1079.5,175.0 1081.5,173.8 1083.5,172.3 1085.5,173.0 1087.5,170.3 1089.5,174.9 1091.5,172.4 1093.5,172.8 1095.5,173.4 1097.5,172.4 1099.5,170.4 1101.5,172.3 1103.5,171.8 1105.5,173.6 1107.5,172.7 1109.5,172.1 1111.5,173.4 1113.5,171.8 1115.5,173.4 1117.5,172.6 1119.5,173.3 1121.5,173.5 1123.5,171.2 1125.5,173.0 1127.5,172.3 1129.5,170.6 1131.5,173.4 1133.5,172.4 1135.5,173.6 1137.5,172.7 1139.5,174.7 1141.5,174.1 1143.5,172.6 1145.5,171.9 1147.5,173.3 1149.5,171.3 1151.5,172.7 1153.5,173.5 1155.5,173.0 1157.5,172.9 1159.5,171.9 1161.5,170.8 1163.5,172.1 1165.5,173.3 1167.5,171.1 1169.5,172.3 1171.5,173.1 1173.5,171.8 1175.5,172.1 1177.5,173.5 1179.5,174.0 1181.5,172.5 1183.5,170.6 1185.5,172.6 1187.5,173.7 1189.5,175.2 1191.5,171.7 1193.5,171.2 1195.5,170.1 1197.5,172.1 1199.5,172.4 1201.5,173.9 1203.5,174.5 1205.5,171.9 1207.5,169.2 1209.5,172.3 1211.5,173.9 1213.5,171.6 1215.5,173.6 1217.5,172.9 1219.5,171.1 1221.5,173.0 1223.5,173.9 1225.5,171.3 1227.5,172.1 1229.5,172.7 1231.5,174.8 1233.5,172.4 1235.5,171.1 1237.5,172.5 1239.5,171.5 1241.5,171.7 1243.5,176.4 1245.5,174.1 1247.5,172.1 1249.5,174.0 1251.5,173.1 1253.5,173.2 1255.5,176.0 1257.5,172.9 1259.5,170.6 1261.5,172.8 1263.5,174.7 1265.5,173.0 1267.5,172.2 1269.5,174.1 1271.5,173.5 1273.5,173.4 1275.5,171.8 1277.5,171.8 1279.5,171.2 1281.5,170.8 1283.5,171.4 1285.5,170.1 1287.5,170.9 1289.5,173.2 1291.5,172.5 1293.5,171.2 1295.5,172.0 1297.5,173.0 1299.5,172.1 1301.5,174.3 1303.5,173.1 1305.5,172.4 1307.5,173.5 1309.5,174.3 1311.5,171.5 1313.5,174.0 1315.5,172.1 1317.5,172.2 1319.5,173.0 1321.5,169.9 1323.5,168.8 1325.5,172.0 1327.5,173.3 1329.5,174.3 1331.5,174.3 1333.5,172.7 1335.5,173.4 1337.5,172.2 1339.5,173.0 1341.5,173.3 1343.5,173.4 1345.5,175.4 1347.5,170.1 1349.5,174.4 1351.5,171.0 1353.5,172.6 1355.5,170.8 1357.5,172.0 1359.5,172.9 1361.5,172.4 1363.5,173.4 1365.5,173.3 1367.5,172.6 1369.5,171.8 1371.5,168.5 1373.5,166.3 1375.5,168.2 1377.5,164.1 1379.5,165.4 1381.5,164.8 1383.5,161.9 1385.5,161.7 1387.5,158.6 1389.5,157.7 1391.5,158.4 1393.5,156.4 1395.5,154.1 1397.5,150.5 1399.5,147.3 1401.5,150.0 1403.5,147.2 1405.5,150.8 1407.5,138.6 1409.5,138.2 1411.5,135.0 1413.5,133.2 1415.5,132.8 1417.5,129.9 1419.5,128.3 1421.5,124.4 1423.5,132.7 1425.5,116.5" stroke="#30e060" stroke-width="1.3"/>
<polyline points="1033.5,174.4 1035.5,178.2 1037.5,175.2 1039.5,175.3 1041.5,176.3 1043.5,173.8 1045.5,173.1 1047.5,174.0 1049.5,173.3 1051.5,173.7 1053.5,174.7 1055.5,173.7 1057.5,173.0 1059.5,173.1 1061.5,173.9 1063.5,171.5 1065.5,171.7 1067.5,172.1 1069.5,173.2 1071.5,172.6 1073.5,173.2 1075.5,173.2 1077.5,174.1 1079.5,174.6 1081.5,174.1 1083.5,171.5 1085.5,172.1 1087.5,171.4 1089.5,171.4 1091.5,172.2 1093.5,171.0 1095.5,172.2 1097.5,173.8 1099.5,172.3 1101.5,172.4 1103.5,173.0 1105.5,173.6 1107.5,173.2 1109.5,172.0 1111.5,172.3 1113.5,172.5 1115.5,173.2 1117.5,173.5 1119.5,171.4 1121.5,172.0 1123.5,172.5 1125.5,174.0 1127.5,172.4 1129.5,172.5 1131.5,173.6 1133.5,170.7 1135.5,173.2 1137.5,172.8 1139.5,173.3 1141.5,172.6 1143.5,173.2 1145.5,171.0 1147.5,172.3 1149.5,172.3 1151.5,172.2 1153.5,172.7 1155.5,171.3 1157.5,173.4 1159.5,174.8 1161.5,172.0 1163.5,171.4 1165.5,172.9 1167.5,173.2 1169.5,173.1 1171.5,173.2 1173.5,174.0 1175.5,172.3 1177.5,174.1 1179.5,171.1 1181.5,173.6 1183.5,174.2 1185.5,174.0 1187.5,171.3 1189.5,172.3 1191.5,172.1 1193.5,172.7 1195.5,173.0 1197.5,174.2 1199.5,172.6 1201.5,171.6 1203.5,172.9 1205.5,175.8 1207.5,173.6 1209.5,173.5 1211.5,173.4 1213.5,171.1 1215.5,172.8 1217.5,173.6 1219.5,175.1 1221.5,173.1 1223.5,173.1 1225.5,173.6 1227.5,173.2 1229.5,172.5 1231.5,171.2 1233.5,173.1 1235.5,172.4 1237.5,171.9 1239.5,173.0 1241.5,172.7 1243.5,171.3 1245.5,173.8 1247.5,173.2 1249.5,171.1 1251.5,171.8 1253.5,174.3 1255.5,174.1 1257.5,174.4 1259.5,171.3 1261.5,172.6 1263.5,172.0 1265.5,175.8 1267.5,173.9 1269.5,171.8 1271.5,172.1 1273.5,172.1 1275.5,171.2 1277.5,172.9 1279.5,173.7 1281.5,174.0 1283.5,170.2 1285.5,172.6 1287.5,171.0 1289.5,173.9 1291.5,170.9 1293.5,172.4 1295.5,172.7 1297.5,171.8 1299.5,172.1 1301.5,173.8 1303.5,172.7 1305.5,172.8 1307.5,172.6 1309.5,171.1 1311.5,172.0 1313.5,171.6 1315.5,171.9 1317.5,173.9 1319.5,173.5 1321.5,172.7 1323.5,171.7 1325.5,172.9 1327.5,173.3 1329.5,173.4 1331.5,173.3 1333.5,169.4 1335.5,173.1 1337.5,171.7 1339.5,173.4 1341.5,171.6 1343.5,171.9 1345.5,174.9 1347.5,171.3 1349.5,173.4 1351.5,174.1 1353.5,171.7 1355.5,172.7 1357.5,173.9 1359.5,174.2 1361.5,172.4 1363.5,172.7 1365.5,172.6 1367.5,170.7 1369.5,174.1 1371.5,171.2 1373.5,169.8 1375.5,170.2 1377.5,170.4 1379.5,171.0 1381.5,169.0 1383.5,170.4 1385.5,169.6 1387.5,171.4 1389.5,169.0 1391.5,170.4 1393.5,167.2 1395.5,168.3 1397.5,167.2 1399.5,166.7 1401.5,167.8 1403.5,168.2 1405.5,167.3 1407.5,164.8 1409.5,165.0 1411.5,165.1 1413.5,163.2 1415.5,162.6 1417.5,162.0 1419.5,161.0 1421.5,161.9 1423.5,162.9 1425.5,160.6" stroke="#e03030" stroke-width="1.3"/>
<polyline points="1033.5,176.6 1035.5,177.6 1037.5,174.7 1039.5,178.9 1041.5,175.1 1043.5,173.2 1045.5,175.5 1047.5,174.3 1049.5,171.8 1051.5,174.0 1053.5,173.6 1055.5,174.5 1057.5,174.1 1059.5,173.4 1061.5,173.7 1063.5,172.1 1065.5,172.6 1067.5,173.2 1069.5,172.4 1071.5,172.5 1073.5,172.8 1075.5,171.0 1077.5,174.4 1079.5,174.4 1081.5,171.7 1083.5,170.5 1085.5,173.6 1087.5,172.0 1089.5,171.4 1091.5,171.4 1093.5,172.5 1095.5,175.4 1097.5,173.8 1099.5,172.5 1101.5,171.9 1103.5,170.8 1105.5,171.4 1107.5,175.0 1109.5,174.4 1111.5,174.8 1113.5,171.5 1115.5,170.7 1117.5,174.4 1119.5,172.2 1121.5,172.9 1123.5,172.6 1125.5,171.8 1127.5,173.3 1129.5,174.7 1131.5,173.9 1133.5,171.5 1135.5,171.8 1137.5,175.2 1139.5,174.2 1141.5,173.6 1143.5,174.4 1145.5,174.1 1147.5,174.4 1149.5,173.7 1151.5,174.4 1153.5,173.6 1155.5,173.3 1157.5,172.1 1159.5,173.9 1161.5,174.1 1163.5,172.3 1165.5,172.2 1167.5,171.6 1169.5,174.1 1171.5,171.7 1173.5,173.7 1175.5,173.0 1177.5,173.2 1179.5,171.9 1181.5,171.4 1183.5,172.9 1185.5,171.9 1187.5,173.4 1189.5,175.6 1191.5,172.0 1193.5,172.3 1195.5,172.5 1197.5,173.6 1199.5,173.1 1201.5,172.9 1203.5,172.6 1205.5,172.3 1207.5,172.4 1209.5,172.2 1211.5,170.5 1213.5,172.3 1215.5,171.7 1217.5,173.2 1219.5,172.8 1221.5,175.3 1223.5,172.9 1225.5,172.2 1227.5,171.6 1229.5,172.7 1231.5,173.2 1233.5,173.2 1235.5,171.8 1237.5,170.5 1239.5,170.5 1241.5,173.5 1243.5,174.0 1245.5,172.2 1247.5,172.0 1249.5,171.3 1251.5,172.8 1253.5,173.7 1255.5,173.5 1257.5,172.8 1259.5,171.4 1261.5,173.4 1263.5,173.4 1265.5,172.4 1267.5,172.2 1269.5,174.0 1271.5,173.2 1273.5,175.0 1275.5,172.8 1277.5,173.2 1279.5,172.7 1281.5,171.4 1283.5,173.3 1285.5,173.0 1287.5,172.0 1289.5,172.5 1291.5,172.5 1293.5,171.4 1295.5,174.9 1297.5,171.6 1299.5,172.2 1301.5,172.8 1303.5,171.1 1305.5,174.6 1307.5,172.9 1309.5,170.8 1311.5,172.0 1313.5,174.5 1315.5,174.4 1317.5,171.6 1319.5,173.2 1321.5,172.7 1323.5,172.5 1325.5,173.4 1327.5,172.1 1329.5,172.8 1331.5,172.2 1333.5,172.7 1335.5,173.3 1337.5,172.8 1339.5,172.5 1341.5,173.0 1343.5,173.5 1345.5,175.3 1347.5,171.1 1349.5,172.3 1351.5,171.4 1353.5,170.2 1355.5,171.4 1357.5,173.2 1359.5,173.6 1361.5,175.2 1363.5,170.3 1365.5,173.8 1367.5,172.4 1369.5,172.6 1371.5,172.5 1373.5,170.5 1375.5,169.5 1377.5,171.3 1379.5,172.8 1381.5,170.3 1383.5,170.5 1385.5,171.3 1387.5,170.1 1389.5,170.6 1391.5,170.8 1393.5,170.4 1395.5,166.6 1397.5,168.8 1399.5,170.2 1401.5,169.1 1403.5,166.9 1405.5,169.0 1407.5,169.0 1409.5,169.2 1411.5,166.2 1413.5,167.7 1415.5,166.8 1417.5,164.5 1419.5,165.6 1421.5,164.9 1423.5,164.6 1425.5,165.5" stroke="#20c0d0" stroke-width="1.3"/>
<polyline points="1033.5,193.6 1035.5,188.5 1037.5,188.4 1039.5,187.8 1041.5,188.6 1043.5,185.5 1045.5,185.1 1047.5,184.0 1049.5,182.9 1051.5,178.5 1053.5,179.4 1055.5,177.5 1057.5,177.3 1059.5,175.3 1061.5,177.4 1063.5,175.7 1065.5,178.7 1067.5,172.0 1069.5,174.5 1071.5,171.1 1073.5,173.4 1075.5,171.9 1077.5,172.8 1079.5,171.3 1081.5,174.9 1083.5,173.2 1085.5,173.2 1087.5,173.8 1089.5,170.5 1091.5,173.3 1093.5,175.3 1095.5,172.2 1097.5,172.5 1099.5,170.7 1101.5,172.4 1103.5,172.3 1105.5,172.0 1107.5,173.4 1109.5,174.3 1111.5,172.3 1113.5,173.6 1115.5,172.0 1117.5,173.1 1119.5,173.4 1121.5,174.2 1123.5,174.1 1125.5,172.0 1127.5,173.7 1129.5,173.9 1131.5,173.9 1133.5,172.3 1135.5,172.0 1137.5,174.3 1139.5,174.4 1141.5,170.7 1143.5,172.1 1145.5,170.8 1147.5,174.9 1149.5,172.4 1151.5,173.8 1153.5,171.3 1155.5,173.9 1157.5,171.8 1159.5,170.8 1161.5,172.5 1163.5,174.4 1165.5,174.3 1167.5,173.6 1169.5,173.6 1171.5,172.2 1173.5,172.6 1175.5,171.7 1177.5,173.5 1179.5,174.5 1181.5,174.6 1183.5,173.3 1185.5,174.1 1187.5,173.0 1189.5,171.7 1191.5,172.1 1193.5,172.6 1195.5,172.9 1197.5,173.0 1199.5,175.5 1201.5,173.4 1203.5,173.6 1205.5,173.5 1207.5,170.2 1209.5,171.4 1211.5,172.7 1213.5,175.5 1215.5,173.8 1217.5,171.6 1219.5,172.4 1221.5,174.3 1223.5,171.0 1225.5,173.3 1227.5,172.6 1229.5,173.6 1231.5,171.2 1233.5,173.5 1235.5,172.4 1237.5,174.7 1239.5,173.7 1241.5,172.4 1243.5,174.3 1245.5,171.8 1247.5,171.4 1249.5,173.9 1251.5,170.9 1253.5,172.6 1255.5,172.5 1257.5,173.6 1259.5,172.7 1261.5,172.2 1263.5,171.7 1265.5,172.9 1267.5,171.7 1269.5,172.5 1271.5,172.4 1273.5,175.3 1275.5,171.5 1277.5,169.6 1279.5,174.7 1281.5,172.5 1283.5,173.6 1285.5,173.1 1287.5,173.9 1289.5,173.8 1291.5,169.7 1293.5,170.9 1295.5,172.1 1297.5,171.6 1299.5,171.6 1301.5,171.9 1303.5,172.1 1305.5,168.6 1307.5,174.0 1309.5,171.5 1311.5,173.7 1313.5,173.5 1315.5,172.0 1317.5,173.8 1319.5,172.6 1321.5,171.7 1323.5,171.7 1325.5,173.5 1327.5,174.9 1329.5,173.2 1331.5,170.7 1333.5,173.6 1335.5,172.3 1337.5,173.6 1339.5,172.1 1341.5,170.4 1343.5,171.7 1345.5,174.9 1347.5,171.6 1349.5,173.5 1351.5,174.4 1353.5,174.3 1355.5,173.5 1357.5,172.5 1359.5,170.4 1361.5,172.4 1363.5,172.9 1365.5,172.2 1367.5,172.1 1369.5,168.8 1371.5,166.0 1373.5,166.3 1375.5,161.3 1377.5,157.0 1379.5,153.3 1381.5,152.0 1383.5,148.1 1385.5,149.7 1387.5,147.6 1389.5,142.4 1391.5,143.4 1393.5,134.1 1395.5,121.8 1397.5,129.5 1399.5,115.0 1401.5,121.3 1403.5,110.7 1405.5,110.3 1407.5,104.6 1409.5,100.2 1411.5,86.9 1413.5,101.1 1415.5,110.9 1417.5,80.8 1419.5,75.4 1421.5,84.6 1423.5,85.1 1425.5,63.0" stroke="#1a8f1a" stroke-width="1.3"/>
<polyline points="1033.5,184.2 1035.5,182.1 1037.5,178.9 1039.5,179.7 1041.5,180.5 1043.5,180.9 1045.5,181.9 1047.5,179.7 1049.5,177.9 1051.5,179.5 1053.5,176.5 1055.5,178.5 1057.5,178.8 1059.5,174.7 1061.5,174.6 1063.5,178.2 1065.5,173.4 1067.5,170.3 1069.5,175.2 1071.5,173.5 1073.5,171.5 1075.5,172.5 1077.5,170.9 1079.5,171.2 1081.5,172.9 1083.5,170.4 1085.5,172.7 1087.5,171.2 1089.5,170.7 1091.5,173.4 1093.5,171.8 1095.5,173.4 1097.5,171.7 1099.5,173.4 1101.5,172.4 1103.5,170.3 1105.5,173.5 1107.5,173.8 1109.5,170.4 1111.5,171.7 1113.5,174.6 1115.5,173.2 1117.5,175.1 1119.5,173.1 1121.5,174.7 1123.5,170.6 1125.5,173.3 1127.5,173.9 1129.5,173.0 1131.5,173.4 1133.5,175.3 1135.5,173.5 1137.5,170.9 1139.5,172.8 1141.5,172.6 1143.5,174.3 1145.5,173.4 1147.5,171.6 1149.5,170.7 1151.5,172.1 1153.5,173.1 1155.5,172.5 1157.5,173.7 1159.5,172.2 1161.5,174.4 1163.5,174.0 1165.5,173.0 1167.5,172.0 1169.5,172.1 1171.5,173.6 1173.5,174.4 1175.5,170.9 1177.5,171.1 1179.5,171.3 1181.5,172.9 1183.5,173.5 1185.5,172.7 1187.5,169.7 1189.5,176.0 1191.5,171.7 1193.5,171.4 1195.5,171.3 1197.5,172.6 1199.5,176.1 1201.5,172.7 1203.5,171.3 1205.5,171.4 1207.5,172.1 1209.5,172.0 1211.5,172.5 1213.5,173.0 1215.5,173.3 1217.5,178.3 1219.5,173.9 1221.5,175.0 1223.5,170.6 1225.5,173.0 1227.5,171.8 1229.5,174.1 1231.5,171.9 1233.5,172.7 1235.5,174.2 1237.5,171.7 1239.5,173.0 1241.5,170.9 1243.5,169.6 1245.5,171.9 1247.5,170.1 1249.5,173.8 1251.5,172.0 1253.5,172.4 1255.5,173.8 1257.5,173.1 1259.5,172.0 1261.5,174.6 1263.5,172.1 1265.5,171.1 1267.5,170.5 1269.5,173.2 1271.5,170.0 1273.5,174.7 1275.5,172.4 1277.5,171.7 1279.5,175.7 1281.5,172.2 1283.5,171.5 1285.5,172.1 1287.5,171.2 1289.5,173.2 1291.5,170.8 1293.5,172.9 1295.5,173.5 1297.5,173.5 1299.5,171.1 1301.5,173.0 1303.5,174.5 1305.5,172.7 1307.5,173.8 1309.5,173.3 1311.5,170.3 1313.5,172.8 1315.5,172.6 1317.5,173.2 1319.5,170.8 1321.5,172.9 1323.5,172.8 1325.5,171.4 1327.5,174.5 1329.5,171.4 1331.5,174.3 1333.5,171.7 1335.5,172.8 1337.5,171.9 1339.5,172.8 1341.5,173.3 1343.5,173.9 1345.5,173.0 1347.5,171.9 1349.5,173.3 1351.5,175.5 1353.5,170.4 1355.5,173.2 1357.5,172.1 1359.5,170.2 1361.5,169.3 1363.5,171.1 1365.5,170.4 1367.5,168.2 1369.5,169.9 1371.5,169.1 1373.5,168.7 1375.5,167.1 1377.5,166.5 1379.5,164.3 1381.5,166.6 1383.5,165.7 1385.5,164.1 1387.5,163.7 1389.5,162.8 1391.5,161.7 1393.5,162.4 1395.5,157.3 1397.5,161.5 1399.5,157.1 1401.5,156.8 1403.5,159.6 1405.5,155.6 1407.5,155.8 1409.5,160.1 1411.5,158.7 1413.5,157.9 1415.5,152.1 1417.5,154.8 1419.5,156.0 1421.5,152.9 1423.5,154.7 1425.5,151.2" stroke="#1a8f1a" stroke-width="1.3"/>
<polyline points="1033.5,179.0 1035.5,177.8 1037.5,176.2 1039.5,176.3 1041.5,175.7 1043.5,178.6 1045.5,176.4 1047.5,174.2 1049.5,173.7 1051.5,174.1 1053.5,173.7 1055.5,177.2 1057.5,174.1 1059.5,176.6 1061.5,174.1 1063.5,172.5 1065.5,170.6 1067.5,171.7 1069.5,173.1 1071.5,174.0 1073.5,172.7 1075.5,172.5 1077.5,171.8 1079.5,171.2 1081.5,171.5 1083.5,172.2 1085.5,173.9 1087.5,173.4 1089.5,176.0 1091.5,171.8 1093.5,175.5 1095.5,175.1 1097.5,173.1 1099.5,174.2 1101.5,171.3 1103.5,172.3 1105.5,173.1 1107.5,172.7 1109.5,173.0 1111.5,172.7 1113.5,173.3 1115.5,173.5 1117.5,173.7 1119.5,173.1 1121.5,171.9 1123.5,171.0 1125.5,172.3 1127.5,172.6 1129.5,174.2 1131.5,175.2 1133.5,173.3 1135.5,172.5 1137.5,173.0 1139.5,172.9 1141.5,173.2 1143.5,173.3 1145.5,172.6 1147.5,172.1 1149.5,173.3 1151.5,170.1 1153.5,172.1 1155.5,173.4 1157.5,174.2 1159.5,173.0 1161.5,173.0 1163.5,172.9 1165.5,172.7 1167.5,172.7 1169.5,170.8 1171.5,174.8 1173.5,173.7 1175.5,171.0 1177.5,174.1 1179.5,170.1 1181.5,173.2 1183.5,172.7 1185.5,171.4 1187.5,171.8 1189.5,174.2 1191.5,173.7 1193.5,170.0 1195.5,170.2 1197.5,172.4 1199.5,169.9 1201.5,170.1 1203.5,174.0 1205.5,172.3 1207.5,172.1 1209.5,171.9 1211.5,171.7 1213.5,171.3 1215.5,174.0 1217.5,173.5 1219.5,171.6 1221.5,173.8 1223.5,175.2 1225.5,172.9 1227.5,173.3 1229.5,171.8 1231.5,172.2 1233.5,174.0 1235.5,171.1 1237.5,173.1 1239.5,173.8 1241.5,172.9 1243.5,171.9 1245.5,173.1 1247.5,174.4 1249.5,171.7 1251.5,172.4 1253.5,174.3 1255.5,169.8 1257.5,171.9 1259.5,172.0 1261.5,172.7 1263.5,172.4 1265.5,173.2 1267.5,173.9 1269.5,172.4 1271.5,173.0 1273.5,174.2 1275.5,171.6 1277.5,171.2 1279.5,172.1 1281.5,173.1 1283.5,173.1 1285.5,171.9 1287.5,172.1 1289.5,173.1 1291.5,171.6 1293.5,172.6 1295.5,173.8 1297.5,171.4 1299.5,174.1 1301.5,174.4 1303.5,174.4 1305.5,174.4 1307.5,169.1 1309.5,173.1 1311.5,173.5 1313.5,172.7 1315.5,172.1 1317.5,172.1 1319.5,174.7 1321.5,171.9 1323.5,172.1 1325.5,170.3 1327.5,173.4 1329.5,171.1 1331.5,172.0 1333.5,172.7 1335.5,172.8 1337.5,173.7 1339.5,171.8 1341.5,174.2 1343.5,172.5 1345.5,172.8 1347.5,173.3 1349.5,173.8 1351.5,172.3 1353.5,172.3 1355.5,174.8 1357.5,172.2 1359.5,172.9 1361.5,174.9 1363.5,173.9 1365.5,172.7 1367.5,174.0 1369.5,172.5 1371.5,173.1 1373.5,170.4 1375.5,171.2 1377.5,174.3 1379.5,171.9 1381.5,170.8 1383.5,170.5 1385.5,170.0 1387.5,170.2 1389.5,170.3 1391.5,168.3 1393.5,169.5 1395.5,166.1 1397.5,166.7 1399.5,170.1 1401.5,167.1 1403.5,163.9 1405.5,165.3 1407.5,164.6 1409.5,162.5 1411.5,167.0 1413.5,161.7 1415.5,162.2 1417.5,161.5 1419.5,159.6 1421.5,158.5 1423.5,158.1 1425.5,153.8" stroke="#f0a020" stroke-width="1.3"/>
<polyline points="1033.5,183.4 1035.5,184.0 1037.5,181.2 1039.5,182.3 1041.5,180.2 1043.5,178.9 1045.5,179.0 1047.5,180.2 1049.5,179.2 1051.5,177.9 1053.5,177.0 1055.5,175.3 1057.5,177.5 1059.5,176.3 1061.5,174.3 1063.5,175.4 1065.5,174.6 1067.5,175.9 1069.5,176.3 1071.5,172.4 1073.5,171.3 1075.5,173.1 1077.5,171.7 1079.5,173.9 1081.5,174.4 1083.5,172.7 1085.5,169.3 1087.5,172.0 1089.5,171.5 1091.5,173.9 1093.5,171.0 1095.5,169.2 1097.5,169.4 1099.5,173.3 1101.5,174.8 1103.5,173.7 1105.5,172.5 1107.5,173.8 1109.5,173.0 1111.5,170.2 1113.5,171.1 1115.5,170.6 1117.5,168.7 1119.5,171.8 1121.5,173.4 1123.5,175.1 1125.5,174.4 1127.5,172.8 1129.5,173.5 1131.5,173.9 1133.5,172.7 1135.5,173.9 1137.5,172.0 1139.5,171.4 1141.5,171.5 1143.5,171.7 1145.5,171.3 1147.5,170.5 1149.5,171.8 1151.5,174.8 1153.5,170.8 1155.5,172.0 1157.5,172.8 1159.5,173.2 1161.5,174.5 1163.5,173.6 1165.5,170.8 1167.5,172.7 1169.5,172.3 1171.5,173.5 1173.5,173.8 1175.5,172.6 1177.5,169.7 1179.5,172.0 1181.5,172.5 1183.5,173.7 1185.5,172.0 1187.5,171.5 1189.5,172.6 1191.5,170.4 1193.5,172.0 1195.5,174.2 1197.5,173.7 1199.5,172.6 1201.5,170.2 1203.5,173.4 1205.5,173.7 1207.5,171.2 1209.5,173.1 1211.5,173.8 1213.5,171.2 1215.5,169.6 1217.5,173.0 1219.5,173.3 1221.5,172.4 1223.5,172.2 1225.5,170.4 1227.5,171.4 1229.5,170.2 1231.5,174.2 1233.5,172.6 1235.5,170.9 1237.5,171.8 1239.5,170.9 1241.5,174.0 1243.5,172.6 1245.5,174.7 1247.5,174.2 1249.5,172.7 1251.5,172.1 1253.5,174.4 1255.5,173.5 1257.5,173.5 1259.5,171.4 1261.5,173.4 1263.5,172.4 1265.5,172.3 1267.5,173.5 1269.5,172.4 1271.5,172.4 1273.5,174.4 1275.5,172.6 1277.5,174.0 1279.5,172.6 1281.5,172.2 1283.5,174.4 1285.5,171.1 1287.5,174.0 1289.5,172.7 1291.5,174.4 1293.5,175.3 1295.5,171.4 1297.5,173.1 1299.5,174.3 1301.5,172.7 1303.5,170.9 1305.5,173.5 1307.5,174.3 1309.5,172.8 1311.5,174.6 1313.5,170.9 1315.5,174.4 1317.5,173.5 1319.5,171.8 1321.5,171.9 1323.5,175.9 1325.5,172.5 1327.5,171.8 1329.5,173.0 1331.5,172.0 1333.5,175.1 1335.5,171.0 1337.5,173.3 1339.5,173.0 1341.5,175.3 1343.5,170.4 1345.5,172.1 1347.5,170.9 1349.5,171.0 1351.5,174.1 1353.5,172.1 1355.5,172.9 1357.5,172.9 1359.5,171.9 1361.5,169.1 1363.5,171.8 1365.5,171.2 1367.5,172.7 1369.5,170.9 1371.5,170.2 1373.5,171.5 1375.5,167.2 1377.5,167.3 1379.5,169.6 1381.5,166.2 1383.5,167.6 1385.5,166.2 1387.5,166.5 1389.5,163.8 1391.5,163.7 1393.5,162.2 1395.5,160.7 1397.5,164.8 1399.5,159.4 1401.5,159.2 1403.5,160.7 1405.5,160.1 1407.5,160.6 1409.5,153.2 1411.5,157.0 1413.5,152.4 1415.5,154.5 1417.5,149.6 1419.5,151.7 1421.5,147.8 1423.5,151.2 1425.5,149.2" stroke="#30e060" stroke-width="1.3"/>
<polyline points="1033.5,175.2 1035.5,174.9 1037.5,177.6 1039.5,176.4 1041.5,174.4 1043.5,177.0 1045.5,173.8 1047.5,175.0 1049.5,174.9 1051.5,173.0 1053.5,173.0 1055.5,175.2 1057.5,172.7 1059.5,174.4 1061.5,174.7 1063.5,173.6 1065.5,171.9 1067.5,174.8 1069.5,171.8 1071.5,171.9 1073.5,172.0 1075.5,171.1 1077.5,172.8 1079.5,170.4 1081.5,173.2 1083.5,172.0 1085.5,174.4 1087.5,171.5 1089.5,172.1 1091.5,171.2 1093.5,171.9 1095.5,173.9 1097.5,172.0 1099.5,173.7 1101.5,171.8 1103.5,170.8 1105.5,172.9 1107.5,170.8 1109.5,172.6 1111.5,173.6 1113.5,170.9 1115.5,172.8 1117.5,172.3 1119.5,173.7 1121.5,169.6 1123.5,172.8 1125.5,174.7 1127.5,171.4 1129.5,174.2 1131.5,172.1 1133.5,173.8 1135.5,174.6 1137.5,171.7 1139.5,171.1 1141.5,172.6 1143.5,174.1 1145.5,171.3 1147.5,171.6 1149.5,173.1 1151.5,172.7 1153.5,171.6 1155.5,173.7 1157.5,171.3 1159.5,172.0 1161.5,173.0 1163.5,169.9 1165.5,172.4 1167.5,173.1 1169.5,172.3 1171.5,170.6 1173.5,175.1 1175.5,173.2 1177.5,171.7 1179.5,172.3 1181.5,172.8 1183.5,173.0 1185.5,175.4 1187.5,173.2 1189.5,171.5 1191.5,172.2 1193.5,172.8 1195.5,172.7 1197.5,174.1 1199.5,172.0 1201.5,173.3 1203.5,175.5 1205.5,173.3 1207.5,176.0 1209.5,172.2 1211.5,174.5 1213.5,175.0 1215.5,169.5 1217.5,173.0 1219.5,174.0 1221.5,170.6 1223.5,170.6 1225.5,172.3 1227.5,173.0 1229.5,174.5 1231.5,172.1 1233.5,172.8 1235.5,173.1 1237.5,172.3 1239.5,172.9 1241.5,171.2 1243.5,171.3 1245.5,171.3 1247.5,173.6 1249.5,173.2 1251.5,171.5 1253.5,174.0 1255.5,174.5 1257.5,172.1 1259.5,172.0 1261.5,172.8 1263.5,174.2 1265.5,172.5 1267.5,174.3 1269.5,170.4 1271.5,170.8 1273.5,172.9 1275.5,172.7 1277.5,173.5 1279.5,171.3 1281.5,172.8 1283.5,173.0 1285.5,171.9 1287.5,172.9 1289.5,172.7 1291.5,172.0 1293.5,172.7 1295.5,171.7 1297.5,171.9 1299.5,175.4 1301.5,172.4 1303.5,172.9 1305.5,173.2 1307.5,171.1 1309.5,170.7 1311.5,172.9 1313.5,173.8 1315.5,172.3 1317.5,172.7 1319.5,173.7 1321.5,173.0 1323.5,174.5 1325.5,174.5 1327.5,172.1 1329.5,172.9 1331.5,175.0 1333.5,171.9 1335.5,174.3 1337.5,170.9 1339.5,171.9 1341.5,172.3 1343.5,174.5 1345.5,174.9 1347.5,171.5 1349.5,172.6 1351.5,172.8 1353.5,172.4 1355.5,172.4 1357.5,171.3 1359.5,173.5 1361.5,173.3 1363.5,173.6 1365.5,173.4 1367.5,170.3 1369.5,171.8 1371.5,171.7 1373.5,174.2 1375.5,174.3 1377.5,173.1 1379.5,171.5 1381.5,170.6 1383.5,172.8 1385.5,170.3 1387.5,172.7 1389.5,170.4 1391.5,170.4 1393.5,170.3 1395.5,172.1 1397.5,170.4 1399.5,168.6 1401.5,167.6 1403.5,165.7 1405.5,167.9 1407.5,168.3 1409.5,165.0 1411.5,165.2 1413.5,166.5 1415.5,164.8 1417.5,165.7 1419.5,163.2 1421.5,163.1 1423.5,165.2 1425.5,163.8" stroke="#2090e0" stroke-width="1.3"/>
<polyline points="1033.5,182.8 1035.5,179.2 1037.5,177.7 1039.5,179.7 1041.5,177.7 1043.5,176.2 1045.5,175.7 1047.5,173.2 1049.5,175.9 1051.5,173.9 1053.5,175.0 1055.5,173.3 1057.5,175.3 1059.5,174.0 1061.5,173.6 1063.5,174.5 1065.5,174.1 1067.5,174.5 1069.5,174.5 1071.5,173.4 1073.5,173.1 1075.5,171.2 1077.5,173.5 1079.5,171.2 1081.5,174.0 1083.5,175.2 1085.5,171.6 1087.5,173.5 1089.5,173.2 1091.5,175.2 1093.5,173.1 1095.5,171.0 1097.5,170.7 1099.5,172.7 1101.5,172.0 1103.5,172.1 1105.5,172.5 1107.5,173.0 1109.5,171.4 1111.5,170.2 1113.5,171.5 1115.5,173.8 1117.5,171.8 1119.5,174.1 1121.5,172.8 1123.5,172.7 1125.5,171.5 1127.5,174.2 1129.5,169.3 1131.5,172.2 1133.5,173.7 1135.5,173.8 1137.5,174.4 1139.5,173.8 1141.5,172.8 1143.5,170.7 1145.5,171.3 1147.5,172.4 1149.5,171.9 1151.5,173.7 1153.5,171.9 1155.5,172.1 1157.5,174.2 1159.5,173.8 1161.5,173.8 1163.5,171.6 1165.5,172.6 1167.5,174.6 1169.5,170.2 1171.5,174.8 1173.5,172.2 1175.5,173.3 1177.5,173.5 1179.5,172.5 1181.5,172.8 1183.5,175.8 1185.5,173.8 1187.5,171.5 1189.5,175.1 1191.5,171.4 1193.5,171.7 1195.5,173.3 1197.5,171.6 1199.5,171.3 1201.5,175.8 1203.5,170.8 1205.5,173.6 1207.5,175.4 1209.5,171.6 1211.5,172.1 1213.5,168.0 1215.5,174.2 1217.5,171.8 1219.5,173.5 1221.5,174.8 1223.5,171.6 1225.5,171.3 1227.5,171.5 1229.5,171.7 1231.5,172.6 1233.5,171.8 1235.5,170.6 1237.5,171.0 1239.5,174.3 1241.5,171.7 1243.5,172.1 1245.5,170.5 1247.5,171.0 1249.5,171.6 1251.5,170.9 1253.5,171.2 1255.5,174.5 1257.5,172.9 1259.5,174.2 1261.5,172.1 1263.5,173.9 1265.5,173.5 1267.5,175.6 1269.5,173.3 1271.5,173.5 1273.5,171.6 1275.5,174.3 1277.5,173.3 1279.5,174.3 1281.5,173.0 1283.5,173.3 1285.5,176.9 1287.5,172.3 1289.5,172.0 1291.5,174.7 1293.5,172.5 1295.5,172.2 1297.5,174.8 1299.5,170.8 1301.5,172.9 1303.5,175.7 1305.5,172.8 1307.5,170.3 1309.5,170.2 1311.5,173.1 1313.5,172.0 1315.5,172.8 1317.5,174.1 1319.5,172.5 1321.5,174.8 1323.5,171.5 1325.5,171.6 1327.5,172.0 1329.5,171.0 1331.5,172.6 1333.5,170.5 1335.5,170.5 1337.5,174.5 1339.5,172.1 1341.5,173.2 1343.5,171.1 1345.5,174.3 1347.5,173.7 1349.5,172.1 1351.5,173.3 1353.5,173.2 1355.5,171.6 1357.5,173.3 1359.5,173.4 1361.5,172.9 1363.5,172.1 1365.5,172.2 1367.5,173.1 1369.5,172.3 1371.5,173.0 1373.5,173.1 1375.5,172.2 1377.5,172.1 1379.5,172.6 1381.5,172.4 1383.5,172.9 1385.5,169.2 1387.5,170.7 1389.5,170.8 1391.5,167.6 1393.5,170.9 1395.5,170.4 1397.5,167.8 1399.5,166.5 1401.5,165.7 1403.5,166.2 1405.5,166.0 1407.5,164.7 1409.5,162.9 1411.5,161.9 1413.5,162.3 1415.5,160.9 1417.5,159.0 1419.5,162.5 1421.5,158.7 1423.5,158.4 1425.5,157.9" stroke="#1a8f1a" stroke-width="1.3"/>
<polyline points="1033.5,176.4 1035.5,175.3 1037.5,175.1 1039.5,177.2 1041.5,175.2 1043.5,176.0 1045.5,174.5 1047.5,177.0 1049.5,173.7 1051.5,173.8 1053.5,173.6 1055.5,174.9 1057.5,174.9 1059.5,173.8 1061.5,174.0 1063.5,172.5 1065.5,175.6 1067.5,173.2 1069.5,173.9 1071.5,172.6 1073.5,169.5 1075.5,172.1 1077.5,173.2 1079.5,172.2 1081.5,173.6 1083.5,172.8 1085.5,173.9 1087.5,172.6 1089.5,173.6 1091.5,173.2 1093.5,172.4 1095.5,173.9 1097.5,173.7 1099.5,174.9 1101.5,171.7 1103.5,172.5 1105.5,171.7 1107.5,174.6 1109.5,175.7 1111.5,171.4 1113.5,175.3 1115.5,172.2 1117.5,174.3 1119.5,172.5 1121.5,173.1 1123.5,172.6 1125.5,173.3 1127.5,174.1 1129.5,174.3 1131.5,174.0 1133.5,171.1 1135.5,171.1 1137.5,172.1 1139.5,172.0 1141.5,173.3 1143.5,171.9 1145.5,173.5 1147.5,172.6 1149.5,171.2 1151.5,173.7 1153.5,171.7 1155.5,174.2 1157.5,173.4 1159.5,172.5 1161.5,171.7 1163.5,171.7 1165.5,171.8 1167.5,173.7 1169.5,172.6 1171.5,174.7 1173.5,173.1 1175.5,172.1 1177.5,172.5 1179.5,174.2 1181.5,172.0 1183.5,171.6 1185.5,173.9 1187.5,172.6 1189.5,169.8 1191.5,172.7 1193.5,169.7 1195.5,173.4 1197.5,173.1 1199.5,174.9 1201.5,172.3 1203.5,173.9 1205.5,172.1 1207.5,173.6 1209.5,170.9 1211.5,174.3 1213.5,173.4 1215.5,172.2 1217.5,172.7 1219.5,173.2 1221.5,171.2 1223.5,172.1 1225.5,172.2 1227.5,172.8 1229.5,173.0 1231.5,172.3 1233.5,174.2 1235.5,172.2 1237.5,173.1 1239.5,172.7 1241.5,172.3 1243.5,174.8 1245.5,173.7 1247.5,171.6 1249.5,173.6 1251.5,170.4 1253.5,172.0 1255.5,172.5 1257.5,171.4 1259.5,174.8 1261.5,171.6 1263.5,170.9 1265.5,172.6 1267.5,171.5 1269.5,171.4 1271.5,172.9 1273.5,172.1 1275.5,173.1 1277.5,173.6 1279.5,172.3 1281.5,173.8 1283.5,174.3 1285.5,172.1 1287.5,173.1 1289.5,172.7 1291.5,171.8 1293.5,173.6 1295.5,173.0 1297.5,174.2 1299.5,172.4 1301.5,175.3 1303.5,172.3 1305.5,172.0 1307.5,172.7 1309.5,171.3 1311.5,173.1 1313.5,172.4 1315.5,170.5 1317.5,172.2 1319.5,174.6 1321.5,172.6 1323.5,174.9 1325.5,171.1 1327.5,171.6 1329.5,172.6 1331.5,171.4 1333.5,171.8 1335.5,173.3 1337.5,169.4 1339.5,171.0 1341.5,171.4 1343.5,172.5 1345.5,171.8 1347.5,172.8 1349.5,173.7 1351.5,173.1 1353.5,172.6 1355.5,172.4 1357.5,172.6 1359.5,172.3 1361.5,172.0 1363.5,172.8 1365.5,171.3 1367.5,173.8 1369.5,171.7 1371.5,173.0 1373.5,174.2 1375.5,172.1 1377.5,172.0 1379.5,172.4 1381.5,171.8 1383.5,168.6 1385.5,172.8 1387.5,170.2 1389.5,170.2 1391.5,170.7 1393.5,166.5 1395.5,169.0 1397.5,169.4 1399.5,168.8 1401.5,171.0 1403.5,168.4 1405.5,166.4 1407.5,166.4 1409.5,166.6 1411.5,165.0 1413.5,163.4 1415.5,164.5 1417.5,163.7 1419.5,162.0 1421.5,160.0 1423.5,162.4 1425.5,162.5" stroke="#c8c8f4" stroke-width="1.3"/>
<polyline points="1090.0,174.0 1092.0,174.3 1094.9,174.7 1098.3,175.3 1101.8,175.9 1105.0,176.5 1108.0,177.3 1111.1,178.1 1114.2,179.0 1117.2,179.9 1120.0,180.5 1122.6,180.9 1125.0,181.3 1127.3,181.5 1129.6,181.6 1132.0,181.5 1134.5,181.3 1137.1,180.8 1139.8,180.3 1142.4,179.7 1145.0,179.0 1147.6,178.2 1150.2,177.2 1152.9,176.2 1155.5,175.2 1158.0,174.5 1160.7,174.0 1163.4,173.6 1166.1,173.3 1168.4,173.2 1170.0,173.0" stroke="#1a8f1a" stroke-width="1.4"/>
</g>
<g clip-path="url(#clipCb)" fill="none" stroke-linejoin="round">
<polyline points="1033.5,329.8 1036.0,334.7 1038.5,331.9 1041.0,336.7 1043.5,341.2 1046.0,345.8 1048.5,347.7 1051.0,351.5 1053.5,361.9 1056.0,360.5 1058.5,367.1 1061.0,373.9 1063.5,376.2 1066.0,382.9 1068.5,385.3 1071.0,384.0 1073.5,389.7 1076.0,393.1 1078.5,394.6 1081.0,397.0 1083.5,402.5 1086.0,405.2 1088.5,407.5 1091.0,408.6 1093.5,412.5 1096.0,415.0 1098.5,417.5 1101.0,420.2 1103.5,421.9 1106.0,423.9 1108.5,425.3 1111.0,426.1 1113.5,427.2 1116.0,427.3 1118.5,427.6 1121.0,427.4 1123.5,426.7 1126.0,426.3 1128.5,425.8 1131.0,426.8 1133.5,426.1 1136.0,426.4 1138.5,427.5 1141.0,426.8 1143.5,427.4 1146.0,428.1 1148.5,427.7 1151.0,427.8 1153.5,427.5 1156.0,428.2 1158.5,427.9 1161.0,427.3 1163.5,428.1 1166.0,426.6 1168.5,426.3 1171.0,426.3 1173.5,426.3 1176.0,425.6 1178.5,426.3 1181.0,426.1 1183.5,426.6 1186.0,427.0 1188.5,427.6 1191.0,427.5 1193.5,428.4 1196.0,427.3 1198.5,427.9 1201.0,428.1 1203.5,427.0 1206.0,427.3 1208.5,426.1 1211.0,427.4 1213.5,426.1 1216.0,426.5 1218.5,426.0 1221.0,425.5 1223.5,426.8 1226.0,426.0 1228.5,427.4 1231.0,427.1 1233.5,427.2 1236.0,427.8 1238.5,427.9 1241.0,427.3 1243.5,427.6 1246.0,427.5 1248.5,427.4 1251.0,426.7 1253.5,426.4 1256.0,426.6 1258.5,426.9 1261.0,426.1 1263.5,426.8 1266.0,426.7 1268.5,426.5 1271.0,427.0 1273.5,426.6 1276.0,426.8 1278.5,427.0 1281.0,427.5 1283.5,428.2 1286.0,427.4 1288.5,428.5 1291.0,427.6 1293.5,427.2 1296.0,426.8 1298.5,427.1 1301.0,426.5 1303.5,425.5 1306.0,425.9 1308.5,425.7 1311.0,426.4 1313.5,426.9 1316.0,426.8 1318.5,427.5 1321.0,427.8 1323.5,427.6 1326.0,428.0 1328.5,428.3 1331.0,427.9 1333.5,427.6 1336.0,427.1 1338.5,427.1 1341.0,426.8 1343.5,426.1 1346.0,426.4 1348.5,426.0 1351.0,425.4 1353.5,425.8 1356.0,426.1 1358.5,426.7 1361.0,427.0 1363.5,426.5 1366.0,424.8 1368.5,422.8 1371.0,419.2 1373.5,415.6 1376.0,410.9 1378.5,406.9 1381.0,402.0 1383.5,393.8 1386.0,394.2 1388.5,386.2 1391.0,380.5 1393.5,379.2 1396.0,375.0 1398.5,369.8 1401.0,361.3 1403.5,347.2 1406.0,350.4 1408.5,343.9 1411.0,338.1 1413.5,327.8 1416.0,331.9 1418.5,320.5 1421.0,314.5 1423.5,314.8 1426.0,306.3" stroke="#c8c8f4" stroke-width="1.3"/>
<polyline points="1033.5,398.8 1036.0,402.4 1038.5,400.8 1041.0,402.8 1043.5,405.1 1046.0,408.9 1048.5,409.4 1051.0,412.9 1053.5,414.2 1056.0,415.8 1058.5,418.1 1061.0,418.5 1063.5,419.8 1066.0,420.7 1068.5,421.5 1071.0,422.7 1073.5,423.7 1076.0,423.8 1078.5,425.2 1081.0,425.3 1083.5,425.4 1086.0,426.0 1088.5,425.6 1091.0,426.7 1093.5,426.6 1096.0,426.7 1098.5,427.1 1101.0,427.0 1103.5,427.3 1106.0,427.5 1108.5,428.2 1111.0,428.1 1113.5,427.8 1116.0,427.9 1118.5,427.0 1121.0,426.8 1123.5,425.7 1126.0,425.8 1128.5,425.4 1131.0,426.3 1133.5,426.3 1136.0,426.1 1138.5,426.7 1141.0,428.1 1143.5,427.9 1146.0,427.5 1148.5,427.8 1151.0,427.7 1153.5,428.1 1156.0,427.8 1158.5,427.3 1161.0,427.1 1163.5,427.0 1166.0,427.0 1168.5,426.0 1171.0,426.0 1173.5,425.8 1176.0,425.9 1178.5,426.3 1181.0,427.1 1183.5,426.7 1186.0,426.7 1188.5,427.4 1191.0,427.8 1193.5,428.3 1196.0,427.8 1198.5,428.2 1201.0,427.4 1203.5,427.5 1206.0,426.9 1208.5,426.7 1211.0,426.5 1213.5,426.3 1216.0,426.0 1218.5,426.2 1221.0,426.4 1223.5,426.3 1226.0,426.5 1228.5,427.0 1231.0,427.0 1233.5,427.2 1236.0,427.7 1238.5,428.3 1241.0,427.8 1243.5,427.7 1246.0,427.1 1248.5,427.5 1251.0,426.4 1253.5,426.7 1256.0,426.2 1258.5,425.5 1261.0,426.8 1263.5,426.6 1266.0,426.2 1268.5,426.5 1271.0,426.3 1273.5,426.8 1276.0,427.3 1278.5,427.5 1281.0,427.8 1283.5,428.2 1286.0,427.9 1288.5,427.7 1291.0,427.4 1293.5,427.0 1296.0,426.9 1298.5,427.1 1301.0,426.4 1303.5,425.8 1306.0,425.8 1308.5,426.4 1311.0,425.9 1313.5,426.7 1316.0,427.3 1318.5,427.6 1321.0,427.3 1323.5,427.3 1326.0,427.9 1328.5,428.3 1331.0,427.8 1333.5,427.6 1336.0,426.6 1338.5,427.0 1341.0,426.5 1343.5,426.8 1346.0,426.1 1348.5,426.4 1351.0,426.0 1353.5,426.7 1356.0,427.6 1358.5,426.8 1361.0,426.1 1363.5,427.1 1366.0,426.8 1368.5,426.5 1371.0,426.2 1373.5,425.8 1376.0,424.9 1378.5,424.0 1381.0,423.2 1383.5,422.5 1386.0,422.0 1388.5,421.1 1391.0,420.4 1393.5,418.7 1396.0,418.6 1398.5,418.2 1401.0,417.9 1403.5,417.7 1406.0,416.7 1408.5,416.7 1411.0,417.1 1413.5,415.8 1416.0,414.4 1418.5,413.5 1421.0,413.0 1423.5,411.7 1426.0,412.2" stroke="#f0a020" stroke-width="1.3"/>
<polyline points="1033.5,402.7 1036.0,407.4 1038.5,407.3 1041.0,408.4 1043.5,409.5 1046.0,410.6 1048.5,411.8 1051.0,413.1 1053.5,415.3 1056.0,414.9 1058.5,417.4 1061.0,418.8 1063.5,419.7 1066.0,422.0 1068.5,422.5 1071.0,423.9 1073.5,425.3 1076.0,425.8 1078.5,426.6 1081.0,427.3 1083.5,427.0 1086.0,427.4 1088.5,427.9 1091.0,426.8 1093.5,426.7 1096.0,426.0 1098.5,425.8 1101.0,426.3 1103.5,426.0 1106.0,426.8 1108.5,427.5 1111.0,427.3 1113.5,427.4 1116.0,427.7 1118.5,428.1 1121.0,428.2 1123.5,427.4 1126.0,427.9 1128.5,427.4 1131.0,427.4 1133.5,426.7 1136.0,426.2 1138.5,426.6 1141.0,426.0 1143.5,426.2 1146.0,425.6 1148.5,426.2 1151.0,426.6 1153.5,426.8 1156.0,427.0 1158.5,426.8 1161.0,427.0 1163.5,427.9 1166.0,427.4 1168.5,428.2 1171.0,427.5 1173.5,427.4 1176.0,426.5 1178.5,426.6 1181.0,426.9 1183.5,426.0 1186.0,426.5 1188.5,425.8 1191.0,426.3 1193.5,426.0 1196.0,426.6 1198.5,426.5 1201.0,427.2 1203.5,427.3 1206.0,427.1 1208.5,428.4 1211.0,428.4 1213.5,427.6 1216.0,427.5 1218.5,427.0 1221.0,427.1 1223.5,427.3 1226.0,426.2 1228.5,426.7 1231.0,426.0 1233.5,426.2 1236.0,426.5 1238.5,426.3 1241.0,426.8 1243.5,427.3 1246.0,428.2 1248.5,427.5 1251.0,427.6 1253.5,427.7 1256.0,428.0 1258.5,427.4 1261.0,427.4 1263.5,427.1 1266.0,426.7 1268.5,426.6 1271.0,426.2 1273.5,426.1 1276.0,426.6 1278.5,426.0 1281.0,425.8 1283.5,426.3 1286.0,426.5 1288.5,427.1 1291.0,426.9 1293.5,427.4 1296.0,428.0 1298.5,428.1 1301.0,427.9 1303.5,426.8 1306.0,427.0 1308.5,427.3 1311.0,426.4 1313.5,427.1 1316.0,426.4 1318.5,426.0 1321.0,426.4 1323.5,425.8 1326.0,427.2 1328.5,427.3 1331.0,426.3 1333.5,427.5 1336.0,427.2 1338.5,427.5 1341.0,427.4 1343.5,427.0 1346.0,426.4 1348.5,425.0 1351.0,423.8 1353.5,424.0 1356.0,422.6 1358.5,422.0 1361.0,420.1 1363.5,420.3 1366.0,418.9 1368.5,418.6 1371.0,418.3 1373.5,418.2 1376.0,417.8 1378.5,417.1 1381.0,417.3 1383.5,415.3 1386.0,415.7 1388.5,413.0 1391.0,414.8 1393.5,414.1 1396.0,410.0 1398.5,410.0 1401.0,409.8 1403.5,409.4 1406.0,407.6 1408.5,405.4 1411.0,404.5 1413.5,403.2 1416.0,404.3 1418.5,403.9 1421.0,403.6 1423.5,403.6 1426.0,401.6" stroke="#2090e0" stroke-width="1.3"/>
<polyline points="1033.5,409.9 1036.0,412.7 1038.5,410.9 1041.0,412.0 1043.5,413.7 1046.0,416.5 1048.5,417.2 1051.0,417.9 1053.5,419.2 1056.0,420.7 1058.5,421.0 1061.0,421.4 1063.5,422.6 1066.0,423.1 1068.5,423.1 1071.0,424.0 1073.5,423.5 1076.0,424.4 1078.5,424.5 1081.0,425.1 1083.5,425.1 1086.0,425.5 1088.5,425.9 1091.0,426.4 1093.5,426.6 1096.0,426.9 1098.5,427.5 1101.0,427.5 1103.5,427.2 1106.0,428.7 1108.5,428.7 1111.0,428.3 1113.5,427.3 1116.0,426.7 1118.5,426.3 1121.0,426.5 1123.5,426.6 1126.0,426.8 1128.5,426.3 1131.0,425.9 1133.5,426.4 1136.0,426.3 1138.5,426.9 1141.0,428.4 1143.5,427.9 1146.0,427.9 1148.5,427.2 1151.0,427.8 1153.5,428.3 1156.0,427.1 1158.5,427.0 1161.0,427.2 1163.5,427.1 1166.0,426.6 1168.5,426.1 1171.0,426.3 1173.5,426.1 1176.0,426.1 1178.5,426.1 1181.0,426.3 1183.5,427.0 1186.0,427.5 1188.5,427.1 1191.0,427.7 1193.5,428.0 1196.0,427.5 1198.5,428.1 1201.0,428.1 1203.5,427.8 1206.0,426.5 1208.5,426.6 1211.0,426.5 1213.5,426.1 1216.0,426.0 1218.5,426.5 1221.0,426.1 1223.5,425.6 1226.0,427.2 1228.5,427.5 1231.0,427.5 1233.5,427.2 1236.0,427.7 1238.5,427.6 1241.0,427.5 1243.5,427.6 1246.0,426.7 1248.5,427.1 1251.0,426.8 1253.5,426.1 1256.0,426.3 1258.5,425.7 1261.0,425.8 1263.5,425.7 1266.0,427.0 1268.5,426.7 1271.0,426.0 1273.5,427.3 1276.0,427.5 1278.5,428.2 1281.0,427.4 1283.5,428.3 1286.0,428.1 1288.5,426.6 1291.0,427.5 1293.5,427.6 1296.0,426.8 1298.5,426.8 1301.0,426.2 1303.5,425.9 1306.0,425.9 1308.5,426.3 1311.0,426.8 1313.5,427.4 1316.0,427.5 1318.5,427.9 1321.0,427.7 1323.5,427.0 1326.0,428.1 1328.5,428.5 1331.0,427.5 1333.5,427.7 1336.0,427.6 1338.5,426.2 1341.0,426.7 1343.5,426.2 1346.0,426.4 1348.5,425.9 1351.0,426.0 1353.5,426.6 1356.0,425.4 1358.5,424.8 1361.0,423.7 1363.5,423.9 1366.0,422.6 1368.5,421.7 1371.0,420.8 1373.5,419.4 1376.0,416.4 1378.5,414.7 1381.0,414.4 1383.5,412.0 1386.0,410.1 1388.5,407.7 1391.0,406.8 1393.5,405.6 1396.0,404.3 1398.5,399.3 1401.0,403.7 1403.5,401.4 1406.0,398.5 1408.5,399.8 1411.0,393.0 1413.5,390.0 1416.0,391.3 1418.5,387.5 1421.0,386.5 1423.5,386.3 1426.0,380.2" stroke="#30e060" stroke-width="1.3"/>
<polyline points="1033.5,413.9 1036.0,415.1 1038.5,416.0 1041.0,418.4 1043.5,418.1 1046.0,417.4 1048.5,419.7 1051.0,421.0 1053.5,421.5 1056.0,422.2 1058.5,422.2 1061.0,422.4 1063.5,423.4 1066.0,423.2 1068.5,423.9 1071.0,423.7 1073.5,424.7 1076.0,424.3 1078.5,425.8 1081.0,426.8 1083.5,426.9 1086.0,427.6 1088.5,426.4 1091.0,428.2 1093.5,428.0 1096.0,427.4 1098.5,428.2 1101.0,427.5 1103.5,427.6 1106.0,426.4 1108.5,427.1 1111.0,426.0 1113.5,425.9 1116.0,425.3 1118.5,425.7 1121.0,426.9 1123.5,426.2 1126.0,426.5 1128.5,427.2 1131.0,427.1 1133.5,428.0 1136.0,427.7 1138.5,427.4 1141.0,428.1 1143.5,427.9 1146.0,427.4 1148.5,427.8 1151.0,426.7 1153.5,426.7 1156.0,426.4 1158.5,425.9 1161.0,426.2 1163.5,426.7 1166.0,426.4 1168.5,426.7 1171.0,427.3 1173.5,427.4 1176.0,427.9 1178.5,427.8 1181.0,427.6 1183.5,427.9 1186.0,427.4 1188.5,427.0 1191.0,426.7 1193.5,427.1 1196.0,426.7 1198.5,426.3 1201.0,425.9 1203.5,426.1 1206.0,426.1 1208.5,426.2 1211.0,426.1 1213.5,426.9 1216.0,426.6 1218.5,427.0 1221.0,427.9 1223.5,428.7 1226.0,427.6 1228.5,428.0 1231.0,427.3 1233.5,427.6 1236.0,427.3 1238.5,426.1 1241.0,427.7 1243.5,425.7 1246.0,426.1 1248.5,426.2 1251.0,425.9 1253.5,426.2 1256.0,426.1 1258.5,426.7 1261.0,427.6 1263.5,427.7 1266.0,427.4 1268.5,427.6 1271.0,427.2 1273.5,427.3 1276.0,427.9 1278.5,427.4 1281.0,426.7 1283.5,426.4 1286.0,426.7 1288.5,426.1 1291.0,426.2 1293.5,426.5 1296.0,426.5 1298.5,426.5 1301.0,426.3 1303.5,426.7 1306.0,427.3 1308.5,427.6 1311.0,427.9 1313.5,427.8 1316.0,427.8 1318.5,427.2 1321.0,427.8 1323.5,426.6 1326.0,426.7 1328.5,426.5 1331.0,426.5 1333.5,426.1 1336.0,426.2 1338.5,426.6 1341.0,425.5 1343.5,426.5 1346.0,426.9 1348.5,427.4 1351.0,427.4 1353.5,428.1 1356.0,428.0 1358.5,428.6 1361.0,428.1 1363.5,428.1 1366.0,428.0 1368.5,427.3 1371.0,427.0 1373.5,425.9 1376.0,425.5 1378.5,425.5 1381.0,426.1 1383.5,425.8 1386.0,425.3 1388.5,425.2 1391.0,425.5 1393.5,425.9 1396.0,426.3 1398.5,425.6 1401.0,425.4 1403.5,424.9 1406.0,424.1 1408.5,424.3 1411.0,424.1 1413.5,423.0 1416.0,421.9 1418.5,422.1 1421.0,421.4 1423.5,420.8 1426.0,420.1" stroke="#e03030" stroke-width="1.3"/>
<polyline points="1033.5,372.4 1036.0,378.4 1038.5,388.5 1041.0,385.2 1043.5,387.1 1046.0,391.5 1048.5,398.6 1051.0,399.8 1053.5,399.4 1056.0,400.3 1058.5,403.7 1061.0,403.4 1063.5,408.3 1066.0,408.2 1068.5,411.3 1071.0,413.0 1073.5,412.3 1076.0,416.8 1078.5,419.7 1081.0,420.9 1083.5,422.4 1086.0,422.8 1088.5,424.7 1091.0,425.9 1093.5,427.0 1096.0,427.4 1098.5,427.4 1101.0,426.7 1103.5,427.3 1106.0,426.3 1108.5,426.8 1111.0,426.2 1113.5,425.9 1116.0,426.1 1118.5,426.4 1121.0,426.7 1123.5,427.2 1126.0,427.4 1128.5,427.9 1131.0,427.6 1133.5,427.8 1136.0,427.6 1138.5,427.2 1141.0,427.8 1143.5,427.5 1146.0,427.0 1148.5,426.5 1151.0,426.9 1153.5,426.0 1156.0,425.7 1158.5,426.7 1161.0,425.9 1163.5,426.4 1166.0,426.5 1168.5,427.0 1171.0,427.6 1173.5,427.4 1176.0,427.5 1178.5,427.7 1181.0,427.3 1183.5,427.8 1186.0,427.5 1188.5,427.5 1191.0,427.4 1193.5,426.3 1196.0,426.5 1198.5,426.4 1201.0,426.1 1203.5,425.8 1206.0,426.6 1208.5,426.7 1211.0,425.7 1213.5,427.8 1216.0,427.4 1218.5,427.9 1221.0,427.7 1223.5,427.6 1226.0,427.5 1228.5,427.8 1231.0,427.7 1233.5,427.4 1236.0,426.7 1238.5,426.7 1241.0,426.8 1243.5,425.7 1246.0,425.4 1248.5,426.1 1251.0,426.6 1253.5,426.7 1256.0,426.7 1258.5,427.1 1261.0,427.3 1263.5,428.0 1266.0,428.1 1268.5,427.9 1271.0,428.4 1273.5,427.7 1276.0,427.6 1278.5,427.0 1281.0,426.7 1283.5,427.1 1286.0,426.2 1288.5,426.2 1291.0,425.9 1293.5,425.7 1296.0,426.8 1298.5,427.0 1301.0,427.6 1303.5,426.9 1306.0,427.3 1308.5,427.3 1311.0,427.7 1313.5,427.6 1316.0,428.4 1318.5,427.8 1321.0,427.1 1323.5,426.4 1326.0,426.5 1328.5,426.1 1331.0,426.2 1333.5,425.5 1336.0,426.1 1338.5,426.8 1341.0,426.2 1343.5,426.8 1346.0,427.7 1348.5,427.3 1351.0,427.1 1353.5,428.2 1356.0,427.9 1358.5,428.1 1361.0,427.7 1363.5,427.7 1366.0,426.9 1368.5,427.4 1371.0,423.9 1373.5,420.8 1376.0,416.5 1378.5,412.5 1381.0,407.3 1383.5,402.6 1386.0,398.7 1388.5,390.4 1391.0,383.0 1393.5,381.9 1396.0,377.7 1398.5,369.4 1401.0,364.7 1403.5,356.5 1406.0,347.1 1408.5,339.7 1411.0,330.4 1413.5,331.7 1416.0,320.0 1418.5,301.6 1421.0,313.7 1423.5,296.8 1426.0,284.4" stroke="#1a8f1a" stroke-width="1.3"/>
<polyline points="1033.5,408.3 1036.0,406.6 1038.5,409.0 1041.0,410.9 1043.5,410.5 1046.0,411.7 1048.5,412.5 1051.0,415.3 1053.5,415.4 1056.0,418.4 1058.5,419.0 1061.0,421.3 1063.5,420.5 1066.0,421.8 1068.5,423.3 1071.0,423.3 1073.5,424.0 1076.0,424.5 1078.5,424.4 1081.0,424.9 1083.5,425.5 1086.0,425.5 1088.5,425.8 1091.0,425.8 1093.5,426.2 1096.0,426.8 1098.5,427.9 1101.0,427.4 1103.5,427.9 1106.0,427.2 1108.5,427.5 1111.0,427.9 1113.5,428.2 1116.0,428.2 1118.5,427.0 1121.0,426.7 1123.5,426.6 1126.0,426.8 1128.5,425.9 1131.0,426.0 1133.5,426.6 1136.0,426.3 1138.5,426.6 1141.0,426.5 1143.5,427.0 1146.0,427.5 1148.5,427.9 1151.0,427.7 1153.5,427.2 1156.0,427.8 1158.5,427.6 1161.0,427.7 1163.5,427.1 1166.0,427.1 1168.5,426.6 1171.0,426.5 1173.5,426.3 1176.0,425.8 1178.5,424.5 1181.0,426.1 1183.5,426.9 1186.0,426.6 1188.5,427.5 1191.0,426.7 1193.5,427.8 1196.0,428.4 1198.5,427.7 1201.0,428.1 1203.5,427.3 1206.0,427.7 1208.5,427.0 1211.0,427.0 1213.5,427.0 1216.0,426.3 1218.5,426.5 1221.0,426.2 1223.5,426.1 1226.0,426.5 1228.5,426.5 1231.0,427.9 1233.5,427.2 1236.0,427.9 1238.5,427.9 1241.0,428.7 1243.5,428.2 1246.0,427.3 1248.5,427.5 1251.0,427.4 1253.5,426.8 1256.0,426.1 1258.5,426.2 1261.0,426.4 1263.5,425.9 1266.0,425.9 1268.5,425.9 1271.0,427.0 1273.5,426.4 1276.0,426.8 1278.5,427.5 1281.0,427.5 1283.5,427.7 1286.0,427.7 1288.5,427.4 1291.0,428.2 1293.5,428.1 1296.0,427.0 1298.5,426.3 1301.0,426.8 1303.5,426.2 1306.0,425.9 1308.5,426.4 1311.0,426.2 1313.5,427.1 1316.0,427.2 1318.5,427.4 1321.0,427.1 1323.5,426.5 1326.0,427.4 1328.5,427.9 1331.0,428.6 1333.5,428.1 1336.0,427.9 1338.5,427.0 1341.0,426.5 1343.5,426.9 1346.0,425.8 1348.5,426.3 1351.0,426.3 1353.5,426.1 1356.0,424.5 1358.5,423.5 1361.0,421.4 1363.5,420.1 1366.0,418.8 1368.5,416.7 1371.0,413.3 1373.5,411.4 1376.0,410.8 1378.5,408.3 1381.0,405.3 1383.5,399.3 1386.0,399.5 1388.5,395.1 1391.0,392.2 1393.5,389.9 1396.0,389.8 1398.5,382.4 1401.0,379.6 1403.5,378.0 1406.0,373.5 1408.5,372.1 1411.0,371.0 1413.5,364.4 1416.0,358.0 1418.5,363.7 1421.0,360.8 1423.5,352.6 1426.0,348.6" stroke="#1a8f1a" stroke-width="1.3"/>
<polyline points="1033.5,353.9 1036.0,366.1 1038.5,365.9 1041.0,367.2 1043.5,377.5 1046.0,382.0 1048.5,383.0 1051.0,387.3 1053.5,390.5 1056.0,394.0 1058.5,393.9 1061.0,394.9 1063.5,402.6 1066.0,404.3 1068.5,406.6 1071.0,407.8 1073.5,411.8 1076.0,414.1 1078.5,415.0 1081.0,418.8 1083.5,420.3 1086.0,422.1 1088.5,424.2 1091.0,425.8 1093.5,426.5 1096.0,426.6 1098.5,427.4 1101.0,426.5 1103.5,427.1 1106.0,426.2 1108.5,426.4 1111.0,426.3 1113.5,426.4 1116.0,426.2 1118.5,426.2 1121.0,426.8 1123.5,427.5 1126.0,427.6 1128.5,427.6 1131.0,427.7 1133.5,428.2 1136.0,427.6 1138.5,427.8 1141.0,428.3 1143.5,426.9 1146.0,427.5 1148.5,426.7 1151.0,426.5 1153.5,426.3 1156.0,426.1 1158.5,426.4 1161.0,426.2 1163.5,426.8 1166.0,427.5 1168.5,428.0 1171.0,427.8 1173.5,427.8 1176.0,427.9 1178.5,427.8 1181.0,428.2 1183.5,427.8 1186.0,426.3 1188.5,426.3 1191.0,426.6 1193.5,426.2 1196.0,426.2 1198.5,425.8 1201.0,426.0 1203.5,426.5 1206.0,426.6 1208.5,427.0 1211.0,427.6 1213.5,427.3 1216.0,427.2 1218.5,427.9 1221.0,428.1 1223.5,427.7 1226.0,427.9 1228.5,428.0 1231.0,426.7 1233.5,427.0 1236.0,426.8 1238.5,426.1 1241.0,426.2 1243.5,426.3 1246.0,426.3 1248.5,425.6 1251.0,426.3 1253.5,426.9 1256.0,427.4 1258.5,427.1 1261.0,428.1 1263.5,427.5 1266.0,427.6 1268.5,427.4 1271.0,427.9 1273.5,426.6 1276.0,426.9 1278.5,426.9 1281.0,426.5 1283.5,426.6 1286.0,425.9 1288.5,426.6 1291.0,426.6 1293.5,426.3 1296.0,426.6 1298.5,426.7 1301.0,427.5 1303.5,428.1 1306.0,427.3 1308.5,428.0 1311.0,427.5 1313.5,427.8 1316.0,427.7 1318.5,427.2 1321.0,427.2 1323.5,426.4 1326.0,426.1 1328.5,426.2 1331.0,426.7 1333.5,425.1 1336.0,426.4 1338.5,426.6 1341.0,426.9 1343.5,426.8 1346.0,426.6 1348.5,426.7 1351.0,425.5 1353.5,426.4 1356.0,425.3 1358.5,425.1 1361.0,423.7 1363.5,422.3 1366.0,422.4 1368.5,420.5 1371.0,420.4 1373.5,419.6 1376.0,417.7 1378.5,417.9 1381.0,416.3 1383.5,417.3 1386.0,416.4 1388.5,416.1 1391.0,414.8 1393.5,414.9 1396.0,413.7 1398.5,414.4 1401.0,413.1 1403.5,411.8 1406.0,411.2 1408.5,409.9 1411.0,406.1 1413.5,405.0 1416.0,404.6 1418.5,405.8 1421.0,405.6 1423.5,403.1 1426.0,403.4" stroke="#000000" stroke-width="1.3"/>
<polyline points="1034.0,401.3 1039.9,405.8 1047.9,409.6 1057.7,415.5 1068.5,420.5 1080.0,424.7 1091.2,425.8 1102.4,428.0 1115.1,427.0 1130.5,428.2 1150.0,427.4 1176.7,427.6 1209.8,426.3 1244.4,427.1 1276.1,427.6 1300.0,426.6 1314.6,425.9 1323.0,425.4 1327.6,425.9 1330.8,425.0 1335.0,422.5 1340.0,417.5 1344.3,414.7 1348.1,410.6 1351.6,403.7 1355.0,400.3 1358.4,395.0 1361.5,389.5 1364.4,385.0 1367.2,378.9 1370.0,374.7 1372.7,372.8 1375.4,369.3 1378.0,367.3 1380.5,364.5 1383.0,363.4 1385.4,363.3 1387.7,363.1 1390.0,364.8 1392.4,366.2 1395.0,368.5 1397.8,370.9 1400.7,373.7 1403.8,378.8 1406.9,381.3 1410.0,385.2 1413.4,389.3 1417.1,392.3 1420.7,396.8 1423.8,399.6 1426.0,401.0" stroke="#2090e0" stroke-width="1.3"/>
<polyline points="1034.0,420.6 1040.8,420.8 1049.2,421.7 1060.8,423.5 1077.2,425.1 1100.0,426.1 1134.1,426.1 1178.5,427.3 1225.8,427.2 1268.7,426.7 1300.0,427.2 1317.0,426.8 1324.7,426.5 1326.9,425.9 1327.4,425.3 1330.0,424.3 1334.8,423.1 1339.1,420.2 1343.1,417.0 1346.7,414.9 1350.0,412.5 1352.9,408.2 1355.4,404.5 1357.6,399.4 1359.7,394.7 1362.0,389.1 1364.4,384.2 1366.8,379.5 1369.3,373.0 1371.7,367.1 1374.0,362.0 1376.2,356.8 1378.4,352.4 1380.6,348.4 1382.8,343.7 1385.0,341.2 1387.4,335.0 1390.0,332.0 1392.5,328.1 1394.9,325.3 1397.0,324.6 1398.7,325.2 1400.2,328.6 1401.5,331.8 1402.7,336.2 1404.0,339.7 1405.3,344.5 1406.5,349.4 1407.6,354.8 1408.8,356.8 1410.0,357.8 1411.2,352.6 1412.4,345.7 1413.7,337.2 1414.9,327.6 1416.0,319.8 1417.1,313.1 1418.1,308.1 1419.0,302.4 1420.0,297.9 1421.0,291.1 1422.1,282.3 1423.2,273.7 1424.4,263.3 1425.3,254.5 1426.0,249.2" stroke="#000000" stroke-width="1.3"/>
</g>
<rect x="1033.5" y="22" width="392.9000000000001" height="416.8" fill="none" stroke="#808080" stroke-width="1.3"/>
<line x1="1033.5" y1="248.2" x2="1426.4" y2="248.2" stroke="#808080" stroke-width="1.3"/>
<path d="M1033.5,210.1h-3.5 M1033.5,172.6h-6 M1033.5,135.1h-3.5 M1033.5,97.6h-6 M1033.5,60.1h-3.5 M1033.5,427.0h-6 M1033.5,413.3h-3.5 M1033.5,399.6h-3.5 M1033.5,385.8h-3.5 M1033.5,372.1h-3.5 M1033.5,358.4h-3.5 M1033.5,344.7h-3.5 M1033.5,331.0h-3.5 M1033.5,317.2h-3.5 M1033.5,303.5h-3.5 M1033.5,289.8h-6 M1033.5,276.1h-3.5 M1033.5,262.4h-3.5 M1060.5,438.8v6 M1060.5,248.2v-3M1060.5,248.2v3 M1088.5,438.8v3.5 M1088.5,248.2v-3M1088.5,248.2v3 M1116.5,438.8v3.5 M1116.5,248.2v-3M1116.5,248.2v3 M1144.5,438.8v3.5 M1144.5,248.2v-3M1144.5,248.2v3 M1172.5,438.8v6 M1172.5,248.2v-3M1172.5,248.2v3 M1200.5,438.8v3.5 M1200.5,248.2v-3M1200.5,248.2v3 M1228.5,438.8v3.5 M1228.5,248.2v-3M1228.5,248.2v3 M1256.5,438.8v3.5 M1256.5,248.2v-3M1256.5,248.2v3 M1284.5,438.8v6 M1284.5,248.2v-3M1284.5,248.2v3 M1312.5,438.8v3.5 M1312.5,248.2v-3M1312.5,248.2v3 M1340.5,438.8v3.5 M1340.5,248.2v-3M1340.5,248.2v3 M1368.5,438.8v3.5 M1368.5,248.2v-3M1368.5,248.2v3 M1396.5,438.8v6 M1396.5,248.2v-3M1396.5,248.2v3 M1424.5,438.8v3.5 M1424.5,248.2v-3M1424.5,248.2v3" stroke="#808080" stroke-width="1.2" fill="none"/>
<path d="M1105,293V438.8M1345.4,293V438.8" stroke="#000" stroke-width="1.6" stroke-dasharray="6,4" fill="none"/>
<line x1="1118" y1="335.8" x2="1332" y2="335.8" stroke="#000" stroke-width="1.8"/>
<path d="M1105,335.8L1130.5,328.6L1124,335.8L1130.5,343Z M1345.4,335.8L1319.9,328.6L1326.4,335.8L1319.9,343Z" fill="#000"/>
<text x="1224.5" y="324" font-family="Liberation Sans, sans-serif" font-size="37" font-weight="bold" fill="#000" text-anchor="middle" textLength="102" lengthAdjust="spacingAndGlyphs">2.1eV</text>
<text x="1025" y="106.4" font-family="Liberation Sans, sans-serif" font-size="24.5" font-weight="normal" fill="#000" text-anchor="end" >2</text>
<text x="1025" y="181.4" font-family="Liberation Sans, sans-serif" font-size="24.5" font-weight="normal" fill="#000" text-anchor="end" >0</text>
<text x="1027" y="298.6" font-family="Liberation Sans, sans-serif" font-size="24.5" font-weight="normal" fill="#000" text-anchor="end" >0.01</text>
<text x="1027" y="435.8" font-family="Liberation Sans, sans-serif" font-size="24.5" font-weight="normal" fill="#000" text-anchor="end" >0</text>
<text x="1057.5" y="465.8" font-family="Liberation Sans, sans-serif" font-size="25" font-weight="normal" fill="#000" text-anchor="middle" >-2000</text>
<text x="1169.5" y="465.8" font-family="Liberation Sans, sans-serif" font-size="25" font-weight="normal" fill="#000" text-anchor="middle" >-1000</text>
<text x="1284.5" y="465.8" font-family="Liberation Sans, sans-serif" font-size="25" font-weight="normal" fill="#000" text-anchor="middle" >0</text>
<text x="1396.5" y="465.8" font-family="Liberation Sans, sans-serif" font-size="25" font-weight="normal" fill="#000" text-anchor="middle" >1000</text>
<text x="1245.5" y="482" font-family="Liberation Sans, sans-serif" font-size="25" font-weight="normal" fill="#000" text-anchor="middle" >V[mV]</text>
<text transform="translate(980.5,136.4) rotate(-90)" font-family="Liberation Sans, sans-serif" font-size="25" text-anchor="middle" fill="#000">I[nA]</text>
<text transform="translate(978.5,345.5) rotate(-90)" font-family="Liberation Sans, sans-serif" font-size="24.5" text-anchor="middle" fill="#000" textLength="188" lengthAdjust="spacingAndGlyphs">d(I[nA])/d(V[mV])</text>
<rect x="1171.4" y="23" width="124.89999999999986" height="121" fill="#fff" stroke="#808080" stroke-width="1.2"/>
<path d="M1242.5,23V144M1171.4,83.7H1296.3" stroke="#808080" stroke-width="0.9" stroke-dasharray="1.5,1.5" fill="none"/>
<path d="M1171.4,38.3h3 M1171.4,52.8h3 M1171.4,68.3h3 M1171.4,83.7h3 M1171.4,99.2h3 M1171.4,113.7h3 M1171.4,129.2h3 M1198,144v-3 M1220,144v-3 M1242.5,144v-3 M1264,144v-3 M1285,144v-3" stroke="#808080" stroke-width="1" fill="none"/>
<polyline points="1171.4,142.7 1171.8,140.5 1172.3,137.3 1172.9,133.6 1173.6,129.8 1174.3,126.0 1175.1,122.3 1175.9,118.3 1176.9,114.4 1177.9,110.5 1179.0,107.0 1180.2,103.7 1181.6,100.6 1183.0,97.7 1184.6,95.1 1186.2,92.8 1188.0,90.8 1189.9,89.2 1192.0,87.8 1193.9,86.6 1195.7,85.6 1196.7,84.9 1197.1,84.4 1197.7,84.1 1199.3,83.9 1202.8,83.7 1209.2,83.6 1218.0,83.6 1227.6,83.7 1236.5,83.8 1243.3,83.7 1247.5,83.5 1250.1,83.2 1251.8,82.9 1253.2,82.5 1255.1,82.0 1257.5,81.4 1260.0,80.8 1262.4,80.1 1264.8,79.3 1267.0,78.5 1269.1,77.7 1271.1,76.8 1273.1,75.8 1274.9,74.8 1276.6,73.7 1278.2,72.5 1279.7,71.3 1281.1,69.9 1282.4,68.4 1283.7,66.6 1285.0,64.6 1286.3,62.3 1287.5,59.9 1288.6,57.3 1289.6,54.7 1290.5,52.0 1291.2,49.3 1291.9,46.5 1292.5,43.5 1293.2,40.4 1293.9,36.8 1294.6,32.8 1295.3,28.9 1295.9,25.4 1296.3,23.0" stroke="#c03030" stroke-width="1.5" fill="none"/>
<text x="1167.5" y="58.599999999999994" font-family="Liberation Sans, sans-serif" font-size="16" font-weight="normal" fill="#000" text-anchor="end" >2</text>
<text x="1167.5" y="89.5" font-family="Liberation Sans, sans-serif" font-size="16" font-weight="normal" fill="#000" text-anchor="end" >0</text>
<text x="1167.5" y="119.5" font-family="Liberation Sans, sans-serif" font-size="16" font-weight="normal" fill="#000" text-anchor="end" >-2</text>
<text x="1198" y="159" font-family="Liberation Sans, sans-serif" font-size="16" font-weight="normal" fill="#000" text-anchor="middle" >-2000</text>
<text x="1285" y="159" font-family="Liberation Sans, sans-serif" font-size="16" font-weight="normal" fill="#000" text-anchor="middle" >2000</text>
<defs><clipPath id="clipH"><rect x="71" y="502.5" width="531" height="348.5"/></clipPath><filter id="bl8" x="-20%" y="-20%" width="140%" height="140%"><feGaussianBlur stdDeviation="9"/></filter><filter id="bl5" x="-20%" y="-20%" width="140%" height="140%"><feGaussianBlur stdDeviation="5"/></filter><filter id="bl3" x="-20%" y="-20%" width="140%" height="140%"><feGaussianBlur stdDeviation="3"/></filter><filter id="bl2" x="-20%" y="-20%" width="140%" height="140%"><feGaussianBlur stdDeviation="2"/></filter></defs>
<g clip-path="url(#clipH)">
<rect x="71" y="502.5" width="531" height="348.5" fill="#0000fe"/>
<g filter="url(#bl5)"><polygon points="60.0,660.0 80.0,656.0 95.0,662.0 105.0,652.0 115.0,658.0 123.0,650.0 140.0,660.0 160.0,650.0 180.0,660.0 200.0,646.0 217.0,655.0 234.0,648.0 250.0,658.0 264.0,650.0 280.0,660.0 290.0,656.0 312.0,660.0 312.0,705.0 290.0,708.0 280.0,705.0 264.0,712.0 250.0,708.0 234.0,715.0 217.0,720.0 200.0,716.0 180.0,710.0 160.0,722.0 140.0,710.0 123.0,714.0 105.0,716.0 95.0,706.0 80.0,712.0 60.0,705.0" fill="#9696ff"/></g>
<g filter="url(#bl5)">
<ellipse cx="80" cy="683" rx="10" ry="36" fill="#a8a8ff"/>
<ellipse cx="105" cy="683" rx="10" ry="44" fill="#a8a8ff"/>
<ellipse cx="123" cy="681" rx="10" ry="42" fill="#a8a8ff"/>
<ellipse cx="160" cy="686" rx="13" ry="48" fill="#a8a8ff"/>
<ellipse cx="200" cy="683" rx="15" ry="44" fill="#a8a8ff"/>
<ellipse cx="234" cy="686" rx="10" ry="44" fill="#a8a8ff"/>
<ellipse cx="264" cy="683" rx="11" ry="40" fill="#a8a8ff"/>
<ellipse cx="290" cy="681" rx="9" ry="34" fill="#a8a8ff"/>
</g>
<g filter="url(#bl3)">
<ellipse cx="80" cy="681" rx="6" ry="16" fill="#e0e0ff"/>
<ellipse cx="105" cy="681" rx="6" ry="20" fill="#e0e0ff"/>
<ellipse cx="123" cy="681" rx="7" ry="20" fill="#e0e0ff"/>
<ellipse cx="160" cy="683" rx="8" ry="20" fill="#e0e0ff"/>
<ellipse cx="200" cy="681" rx="13" ry="18" fill="#e0e0ff"/>
<ellipse cx="234" cy="683" rx="7" ry="19" fill="#e0e0ff"/>
<ellipse cx="264" cy="681" rx="7" ry="16" fill="#e0e0ff"/>
<ellipse cx="290" cy="681" rx="6" ry="13" fill="#e0e0ff"/>
</g>
<g filter="url(#bl3)"><polygon points="60,674 312,674 312,690 60,690" fill="#c8c8ff" opacity="0.8"/></g>
<g filter="url(#bl2)"><ellipse cx="122.6" cy="681" rx="4" ry="11" fill="#ff9c9c"/><ellipse cx="105" cy="681" rx="3" ry="9" fill="#ffffff"/><ellipse cx="200" cy="681" rx="8" ry="9" fill="#ffffff"/></g>
<g filter="url(#bl3)"><ellipse cx="216" cy="745" rx="3" ry="16" fill="#8080ff"/><ellipse cx="160" cy="735" rx="5" ry="10" fill="#9a9aff"/></g>
<g filter="url(#bl3)"><polygon points="300.0,652.0 330.0,645.0 602.0,645.0 602.0,838.0 560.0,836.0 520.0,838.0 470.0,838.0 452.0,836.0 438.0,830.0 420.0,828.0 405.0,830.0 390.0,832.0 375.0,830.0 365.0,815.0 358.0,790.0 350.0,765.0 342.0,742.0 330.0,722.0 315.0,710.0 300.0,706.0" fill="#8c8cff"/></g>
<g filter="url(#bl3)"><ellipse cx="367" cy="786" rx="6" ry="12" fill="#3c3cff"/><ellipse cx="345" cy="800" rx="8" ry="30" fill="#2020ff"/></g>
<g filter="url(#bl3)"><polygon points="300.0,664.0 330.0,658.0 602.0,658.0 602.0,824.0 580.0,822.0 565.0,818.0 550.0,822.0 530.0,826.0 510.0,822.0 490.0,816.0 470.0,821.0 455.0,825.0 440.0,818.0 424.0,802.0 406.0,792.0 390.0,776.0 378.0,768.0 368.0,752.0 356.0,735.0 345.0,718.0 333.0,703.0 320.0,690.0 305.0,682.0" fill="#ffffff"/></g>
<g filter="url(#bl3)"><ellipse cx="390" cy="800" rx="8" ry="14" fill="#d8d8ff"/></g>
<g filter="url(#bl3)"><polygon points="312.0,668.0 330.0,663.0 602.0,663.0 602.0,818.0 580.0,816.0 565.0,812.0 550.0,816.0 530.0,820.0 510.0,816.0 490.0,810.0 470.0,815.0 455.0,818.0 446.0,812.0 432.0,800.0 415.0,790.0 400.0,778.0 388.0,766.0 378.0,756.0 368.0,740.0 356.0,722.0 344.0,706.0 330.0,692.0 316.0,678.0" fill="#ff9a9a"/></g>
<g filter="url(#bl3)"><polygon points="328.0,672.0 340.0,668.0 602.0,668.0 602.0,812.0 588.0,808.0 578.0,810.0 566.0,798.0 552.0,808.0 535.0,815.0 520.0,812.0 505.0,805.0 492.0,795.0 478.0,806.0 465.0,812.0 455.0,810.0 448.0,804.0 438.0,793.0 426.0,784.0 412.0,774.0 398.0,764.0 388.0,754.0 380.0,744.0 372.0,732.0 364.0,720.0 354.0,707.0 344.0,694.0 336.0,684.0" fill="#ff0000"/></g>
<g filter="url(#bl8)" opacity="0.6"><ellipse cx="491" cy="795" rx="12" ry="36" fill="#ffd0d0"/><ellipse cx="566" cy="800" rx="12" ry="32" fill="#ffd0d0"/><ellipse cx="430" cy="790" rx="9" ry="26" fill="#ffc0c0"/></g>
</g>
<path d="M71,549.8h4M602,549.8h-4 M71,593.7h4M602,593.7h-4 M71,637.6h4M602,637.6h-4 M71,681.5h4M602,681.5h-4 M71,725.4h4M602,725.4h-4 M71,769.3h4M602,769.3h-4 M71,813.2h4M602,813.2h-4 M117.6,502.5v4M117.6,851v-4 M179.8,502.5v4M179.8,851v-4 M242.0,502.5v4M242.0,851v-4 M304.2,502.5v4M304.2,851v-4 M366.4,502.5v4M366.4,851v-4 M428.6,502.5v4M428.6,851v-4 M490.8,502.5v4M490.8,851v-4 M553.0,502.5v4M553.0,851v-4" stroke="#000" stroke-width="2" fill="none"/>
<polyline points="71.2,871.3 74.2,868.5 77.2,868.0 79.4,881.4 81.9,881.2 84.5,881.2 87.0,879.3 89.5,879.2 91.7,877.2 94.0,877.6 96.2,876.9 98.5,877.2 100.7,877.6 103.0,875.4 105.2,876.3 107.7,876.4 110.2,879.5 112.7,880.6 115.2,881.4 117.5,879.4 119.7,875.6 122.0,871.3 124.2,872.0 126.5,872.6 128.7,873.6 132.0,880.3 134.2,883.5 136.5,881.9 138.7,882.4 140.9,883.0 143.2,885.1 145.4,885.9 147.7,885.3 149.9,884.1 152.2,883.6 154.4,885.2 156.7,887.2 158.9,889.3 161.1,891.3 163.4,892.2 165.6,893.7 167.8,892.4 170.1,894.9 172.3,893.2 174.5,894.8 176.7,895.8 179.0,895.7 181.2,898.2 183.5,898.6 185.7,900.4 187.9,902.8 190.2,907.9 192.4,907.1 194.7,909.4 196.9,910.7 199.2,909.3 201.4,910.8 203.6,912.2 205.9,912.1 208.1,912.7 210.3,914.0 212.6,914.7 214.8,914.6 217.0,916.9 219.3,916.6 221.5,918.3 223.7,920.8 226.0,919.4 228.2,921.3 230.5,921.5 232.7,922.3 234.9,923.4 237.2,922.8 239.4,924.5 241.7,928.2 243.9,929.5 246.1,930.5 248.4,932.9 250.6,933.4 252.9,934.1 255.1,935.1 257.3,936.3 259.6,939.7 261.8,941.4 264.0,942.9 266.2,942.7 268.5,939.6 270.8,940.1 273.0,941.7 275.2,942.5 277.5,942.9 279.7,945.4 282.0,947.6 284.2,949.8 286.5,951.3 288.7,954.1 290.9,953.9 293.2,955.2 295.4,956.9 297.6,958.5 299.9,958.7 302.1,958.6 304.4,957.3 306.6,954.1 308.9,955.3 311.2,955.2 313.4,956.1 315.7,955.8 317.9,956.6 320.2,957.8 322.4,956.4 324.6,956.8 326.9,957.1 329.1,960.1 331.4,959.3 333.6,959.7 335.8,959.1 338.1,957.5 340.3,955.2 342.5,954.5 344.8,958.0 347.0,957.7 349.2,956.4 351.4,955.4 353.7,954.8 355.9,953.2 358.2,951.1 360.4,950.8 362.6,951.4 364.9,952.6 367.1,953.0 369.3,952.1 371.6,949.9 373.8,947.4 376.0,948.4 378.3,950.4 380.5,949.4 382.8,951.7 385.0,951.9 387.2,953.1 389.5,952.0 391.8,950.8 394.0,951.8 396.2,953.0 398.5,953.0 400.7,953.3 403.0,954.0 405.2,951.5 407.4,952.3 409.7,952.7 411.9,951.9 414.1,952.2 416.4,950.6 418.6,953.9 420.9,955.6 423.1,954.9 425.3,953.5 427.6,954.4 429.8,955.2 432.1,956.5 434.3,957.5 436.5,958.9 438.8,956.4 441.0,955.1 443.2,954.1 445.4,954.4 447.7,951.8 449.9,950.8 452.1,953.4 454.4,951.9 456.6,953.0 458.9,955.0 461.1,955.2 463.3,956.6 465.6,956.1 467.8,955.9 470.1,954.2 472.3,955.3 474.5,955.6 476.8,955.8 479.0,956.4 481.2,957.1 483.5,956.5 485.7,957.8 488.0,957.4 490.2,957.5 492.4,957.1 494.7,957.3 496.9,957.5 499.2,957.7 501.4,956.8 503.6,956.6 505.9,957.0 508.1,956.2 510.3,959.1 512.6,959.2 514.8,958.1 517.0,957.2 519.3,956.2 521.5,955.9 523.8,955.5 526.0,957.4 528.2,958.1 530.5,958.6 532.7,960.7 535.0,959.1 537.2,958.4 539.4,957.0 541.6,960.7 543.9,959.7 546.1,959.7 548.3,958.6 550.6,960.5 552.8,959.2 555.1,964.1 557.3,961.3 559.5,962.3 561.8,961.7 564.0,961.0 566.3,959.2 568.5,960.9 570.7,959.6 573.0,961.5 575.2,959.0 577.5,960.0 579.7,960.8 581.9,962.2 584.2,962.9 586.4,960.6 588.6,960.6 590.9,963.1 593.1,963.4 595.3,962.0 597.6,962.6 599.8,963.5" stroke="#1a72b8" stroke-width="3.6" fill="none" stroke-linejoin="round"/>
<path d="M602,940.3h-5 M602,912.1h-5 M602,883.9h-5 M71,912.1h5 M117.6,966v-5 M179.8,966v-5 M242.0,966v-5 M304.2,966v-5 M366.4,966v-5 M428.6,966v-5 M490.8,966v-5 M553.0,966v-5" stroke="#000" stroke-width="2" fill="none"/>
<path d="M69,500.5H604M69,853H604M69,968.5H604M69,498.5V970.5M604,498.5V970.5" stroke="#000" stroke-width="4" fill="none"/>
<line x1="304.2" y1="502.5" x2="304.2" y2="968" stroke="#000" stroke-width="4.2" stroke-dasharray="10.1,8.5" stroke-dashoffset="4.3"/>
<line x1="335.1" y1="502.5" x2="335.1" y2="970" stroke="#e8202a" stroke-width="3.5" stroke-dasharray="5.7,6.76" stroke-dashoffset="1.5"/>
<line x1="366" y1="502.5" x2="366" y2="970" stroke="#3a80f0" stroke-width="3.5" stroke-dasharray="5.7,6.76" stroke-dashoffset="1.5"/>
<line x1="398.7" y1="502.5" x2="398.7" y2="970" stroke="#10b070" stroke-width="3.5" stroke-dasharray="5.7,6.76" stroke-dashoffset="1.5"/>
<line x1="429.3" y1="502.5" x2="429.3" y2="970" stroke="#e06010" stroke-width="3.5" stroke-dasharray="5.7,6.76" stroke-dashoffset="1.5"/>
<defs><linearGradient id="cbg" x1="0" y1="0" x2="0" y2="1"><stop offset="0" stop-color="#0a0aff"/><stop offset="0.1" stop-color="#2020ff"/><stop offset="0.3" stop-color="#7a7aff"/><stop offset="0.45" stop-color="#dcdcff"/><stop offset="0.5" stop-color="#fff6f6"/><stop offset="0.62" stop-color="#ffb8b8"/><stop offset="0.8" stop-color="#ff6060"/><stop offset="1" stop-color="#ff0000"/></linearGradient></defs>
<rect x="611.2" y="500.5" width="27.6" height="352.5" fill="url(#cbg)" stroke="#000" stroke-width="3.8"/>
<path d="M637,851.0h-7 M637,826.0h-4 M637,811.3h-4 M637,800.9h-4 M637,792.8h-4 M637,786.3h-4 M637,780.7h-4 M637,775.9h-4 M637,771.6h-4 M637,767.8h-7 M637,742.8h-4 M637,728.1h-4 M637,717.7h-4 M637,709.6h-4 M637,703.1h-4 M637,697.5h-4 M637,692.7h-4 M637,688.4h-4 M637,684.6h-7 M637,659.6h-4 M637,644.9h-4 M637,634.5h-4 M637,626.4h-4 M637,619.9h-4 M637,614.3h-4 M637,609.5h-4 M637,605.2h-4 M637,601.4h-7 M637,576.4h-4 M637,561.7h-4 M637,551.3h-4 M637,543.2h-4 M637,536.7h-4 M637,531.1h-4 M637,526.3h-4 M637,522.0h-4 M637,518.2h-7" stroke="#000" stroke-width="2" fill="none"/>
<text x="642.5" y="524.2" font-family="Liberation Sans, sans-serif" font-size="17" font-weight="bold" fill="#111">10<tspan font-size="11" dy="-7">3</tspan></text>
<text x="642.5" y="607.4" font-family="Liberation Sans, sans-serif" font-size="17" font-weight="bold" fill="#111">10<tspan font-size="11" dy="-7">2</tspan></text>
<text x="642.5" y="690.6" font-family="Liberation Sans, sans-serif" font-size="17" font-weight="bold" fill="#111">10<tspan font-size="11" dy="-7">1</tspan></text>
<text x="642.5" y="773.8" font-family="Liberation Sans, sans-serif" font-size="17" font-weight="bold" fill="#111">10<tspan font-size="11" dy="-7">0</tspan></text>
<text x="642.5" y="857.0" font-family="Liberation Sans, sans-serif" font-size="17" font-weight="bold" fill="#111">10<tspan font-size="11" dy="-7">-1</tspan></text>
<g font-family="Liberation Sans, sans-serif" font-weight="bold" fill="#111"><text transform="translate(672.6,626) rotate(90)" font-size="21">dI/dV (</text><text transform="translate(672.6,692.2) rotate(90)" y="-5.8" font-size="17">pA</text><text transform="translate(672.6,726.3) rotate(90)" y="3.4" font-size="17">V</text><text transform="translate(672.6,737.6) rotate(90)" font-size="21">)</text></g>
<line x1="669.3" y1="711.5" x2="689.4" y2="728.1" stroke="#111" stroke-width="3"/>
<rect x="72.9" y="503.9" width="62.4" height="63.1" fill="#999999"/>
<text x="103.75" y="555.2" font-family="Liberation Sans, sans-serif" font-weight="bold" font-size="60" fill="#ffffff" text-anchor="middle">d</text>
<text x="212" y="573" font-family="Liberation Sans, sans-serif" font-size="30" font-weight="bold" fill="#fff" text-anchor="middle" textLength="113" lengthAdjust="spacingAndGlyphs">Graphite</text>
<text x="437.8" y="568.2" font-family="Liberation Sans, sans-serif" font-size="29" font-weight="bold" fill="#fff">M<tspan dx="3">oS</tspan><tspan font-size="18" dy="4">2</tspan></text>
<text x="63.5" y="509.7" font-family="Liberation Sans, sans-serif" font-size="18" font-weight="bold" fill="#262626" text-anchor="end" >2</text>
<text x="63.5" y="552.0" font-family="Liberation Sans, sans-serif" font-size="18" font-weight="bold" fill="#262626" text-anchor="end" textLength="25.5" lengthAdjust="spacingAndGlyphs">1.5</text>
<text x="63.5" y="595.5" font-family="Liberation Sans, sans-serif" font-size="18" font-weight="bold" fill="#262626" text-anchor="end" >1</text>
<text x="63.5" y="642.7" font-family="Liberation Sans, sans-serif" font-size="18" font-weight="bold" fill="#262626" text-anchor="end" textLength="26" lengthAdjust="spacingAndGlyphs">0.5</text>
<text x="63.5" y="688.6" font-family="Liberation Sans, sans-serif" font-size="18" font-weight="bold" fill="#262626" text-anchor="end" >0</text>
<text x="63.5" y="735.1" font-family="Liberation Sans, sans-serif" font-size="18" font-weight="bold" fill="#262626" text-anchor="end" textLength="32.5" lengthAdjust="spacingAndGlyphs">-0.5</text>
<text x="63.5" y="775.1" font-family="Liberation Sans, sans-serif" font-size="18" font-weight="bold" fill="#262626" text-anchor="end" textLength="16.5" lengthAdjust="spacingAndGlyphs">-1</text>
<text x="63.5" y="819.0" font-family="Liberation Sans, sans-serif" font-size="18" font-weight="bold" fill="#262626" text-anchor="end" textLength="32.5" lengthAdjust="spacingAndGlyphs">-1.5</text>
<text x="63" y="862.5" font-family="Liberation Sans, sans-serif" font-size="18" font-weight="bold" fill="#1f74bd" text-anchor="end" >2</text>
<text x="63" y="918.9" font-family="Liberation Sans, sans-serif" font-size="18" font-weight="bold" fill="#1f74bd" text-anchor="end" >1</text>
<text x="63" y="975.3" font-family="Liberation Sans, sans-serif" font-size="18" font-weight="bold" fill="#1f74bd" text-anchor="end" >0</text>
<text x="115.6" y="989" font-family="Liberation Sans, sans-serif" font-size="18" font-weight="bold" fill="#1f74bd" text-anchor="middle" >-3</text>
<text x="177.8" y="989" font-family="Liberation Sans, sans-serif" font-size="18" font-weight="bold" fill="#1f74bd" text-anchor="middle" >-2</text>
<text x="240.0" y="989" font-family="Liberation Sans, sans-serif" font-size="18" font-weight="bold" fill="#1f74bd" text-anchor="middle" >-1</text>
<text x="304.2" y="989" font-family="Liberation Sans, sans-serif" font-size="18" font-weight="bold" fill="#1f74bd" text-anchor="middle" >0</text>
<text x="366.4" y="989" font-family="Liberation Sans, sans-serif" font-size="18" font-weight="bold" fill="#1f74bd" text-anchor="middle" >1</text>
<text x="428.6" y="989" font-family="Liberation Sans, sans-serif" font-size="18" font-weight="bold" fill="#1f74bd" text-anchor="middle" >2</text>
<text x="490.8" y="989" font-family="Liberation Sans, sans-serif" font-size="18" font-weight="bold" fill="#1f74bd" text-anchor="middle" >3</text>
<text x="553.0" y="989" font-family="Liberation Sans, sans-serif" font-size="18" font-weight="bold" fill="#1f74bd" text-anchor="middle" >4</text>
<text x="339" y="1014.5" font-family="Liberation Sans, sans-serif" font-size="22" font-weight="bold" fill="#1f74bd" text-anchor="middle" textLength="349" lengthAdjust="spacingAndGlyphs">Distance From Contact Edge (nm)</text>
<text transform="translate(24.8,652.3) rotate(-90)" font-family="Liberation Sans, sans-serif" font-size="24.5" font-weight="bold" text-anchor="middle" fill="#111" textLength="305" lengthAdjust="spacingAndGlyphs">Sample-Probe Voltage (V)</text>
<text transform="translate(27,913.5) rotate(-90)" font-family="Liberation Sans, sans-serif" font-size="24" font-weight="bold" text-anchor="middle" fill="#1f74bd" textLength="123" lengthAdjust="spacingAndGlyphs">Height (nm)</text>
<defs><filter id="texA" filterUnits="userSpaceOnUse" x="5" y="18.5" width="469" height="469.5" color-interpolation-filters="sRGB"><feTurbulence type="fractalNoise" baseFrequency="0.095" numOctaves="2" seed="5" result="n1"/><feColorMatrix in="n1" type="matrix" values="1 0 0 0 0 1 0 0 0 0 1 0 0 0 0 0 0 0 0 1" result="g1"/><feTurbulence type="fractalNoise" baseFrequency="0.003 0.45" numOctaves="2" seed="3" result="n2"/><feColorMatrix in="n2" type="matrix" values="0 1 0 0 0 0 1 0 0 0 0 1 0 0 0 0 0 0 0 1" result="g2"/><feGaussianBlur in="SourceGraphic" stdDeviation="1.0" result="base0"/><feOffset in="base0" dx="0" dy="0" result="base"/><feComposite in="g1" in2="base" operator="arithmetic" k1="0" k2="1.6" k3="1" k4="-0.8" result="h1"/><feComposite in="g2" in2="h1" operator="arithmetic" k1="0" k2="0.15" k3="1" k4="-0.075" result="h"/><feComponentTransfer in="h"><feFuncR type="table" tableValues="0.000 0.031 0.063 0.094 0.125 0.157 0.188 0.220 0.253 0.290 0.326 0.362 0.398 0.434 0.471 0.508 0.546 0.584 0.621 0.659 0.680 0.702 0.724 0.745 0.776 0.808 0.839 0.871 0.884 0.898 0.912 0.925 0.930 0.935 0.939 0.944 0.948 0.953 0.956 0.959 0.963 0.966 0.969 0.973 0.976 0.980 0.983 0.986 0.991 0.995 1.000"/><feFuncG type="table" tableValues="0.000 0.003 0.005 0.008 0.010 0.013 0.016 0.018 0.026 0.038 0.050 0.062 0.074 0.086 0.098 0.122 0.145 0.169 0.192 0.216 0.245 0.275 0.304 0.333 0.387 0.441 0.495 0.549 0.578 0.608 0.637 0.667 0.681 0.695 0.710 0.724 0.739 0.753 0.766 0.779 0.792 0.805 0.818 0.831 0.849 0.866 0.884 0.901 0.924 0.952 0.980"/><feFuncB type="table" tableValues="0.000 0.000 0.000 0.000 0.000 0.000 0.000 0.000 0.000 0.000 0.000 0.000 0.000 0.000 0.000 0.009 0.019 0.028 0.038 0.047 0.060 0.073 0.085 0.098 0.130 0.163 0.195 0.227 0.249 0.271 0.292 0.314 0.328 0.342 0.357 0.371 0.386 0.400 0.422 0.443 0.465 0.486 0.508 0.529 0.569 0.608 0.647 0.686 0.744 0.819 0.894"/><feFuncA type="linear" slope="0" intercept="1"/></feComponentTransfer></filter><filter id="bb8a" x="-50%" y="-50%" width="200%" height="200%"><feGaussianBlur stdDeviation="3"/></filter><clipPath id="clipA"><rect x="5" y="18.5" width="469" height="469.5"/></clipPath></defs>
<defs><g id="maskAshapes"><polygon points="0,330 150,335 300,370 480,380 480,500 0,500" fill="#fff"/><polygon points="0,0 300,0 300,95 200,90 100,80 0,75" fill="#fff"/><polygon points="380,200 480,200 480,330 420,300" fill="#fff" fill-opacity="0.7"/></g>
<filter id="texAm" filterUnits="userSpaceOnUse" x="5" y="18.5" width="469" height="469.5" color-interpolation-filters="sRGB"><feTurbulence type="fractalNoise" baseFrequency="0.095" numOctaves="2" seed="5" result="n1"/><feColorMatrix in="n1" type="matrix" values="0.9 0 0 0 0.04999999999999999 0.9 0 0 0 0.04999999999999999 0.9 0 0 0 0.04999999999999999 0 0 0 0 1" result="g1"/><feTurbulence type="fractalNoise" baseFrequency="0.05" numOctaves="3" seed="17" result="n3"/><feColorMatrix in="n3" type="matrix" values="1.25 0 0 0 -0.125 1.25 0 0 0 -0.125 1.25 0 0 0 -0.125 0 0 0 0 1" result="g3"/><feImage href="#maskAshapes" result="mi"/><feGaussianBlur in="mi" stdDeviation="12" result="mb"/><feColorMatrix in="mb" type="matrix" values="0 0 0 1 0 0 0 0 1 0 0 0 0 1 0 0 0 0 0 1" result="m"/><feComponentTransfer in="m" result="minv"><feFuncR type="linear" slope="-1" intercept="1"/><feFuncG type="linear" slope="-1" intercept="1"/><feFuncB type="linear" slope="-1" intercept="1"/></feComponentTransfer><feComposite in="g3" in2="m" operator="arithmetic" k1="1" k2="0" k3="0" k4="0" result="a3"/><feComposite in="g1" in2="minv" operator="arithmetic" k1="1" k2="0" k3="0" k4="0" result="a1"/><feComposite in="a1" in2="a3" operator="arithmetic" k1="0" k2="1" k3="1" k4="0" result="mix"/><feTurbulence type="fractalNoise" baseFrequency="0.003 0.45" numOctaves="2" seed="3" result="n2"/><feColorMatrix in="n2" type="matrix" values="0 1 0 0 0 0 1 0 0 0 0 1 0 0 0 0 0 0 0 1" result="g2"/><feGaussianBlur in="SourceGraphic" stdDeviation="2.2" result="base"/><feComposite in="mix" in2="base" operator="arithmetic" k1="0" k2="1.7" k3="1" k4="-0.85" result="h1"/><feComposite in="g2" in2="h1" operator="arithmetic" k1="0" k2="0.15" k3="1" k4="-0.075" result="hh"/><feComponentTransfer in="hh"><feFuncR type="table" tableValues="0.000 0.031 0.063 0.094 0.125 0.157 0.188 0.220 0.253 0.290 0.326 0.362 0.398 0.434 0.471 0.508 0.546 0.584 0.621 0.659 0.680 0.702 0.724 0.745 0.776 0.808 0.839 0.871 0.884 0.898 0.912 0.925 0.930 0.935 0.939 0.944 0.948 0.953 0.956 0.959 0.963 0.966 0.969 0.973 0.976 0.980 0.983 0.986 0.991 0.995 1.000"/><feFuncG type="table" tableValues="0.000 0.003 0.005 0.008 0.010 0.013 0.016 0.018 0.026 0.038 0.050 0.062 0.074 0.086 0.098 0.122 0.145 0.169 0.192 0.216 0.245 0.275 0.304 0.333 0.387 0.441 0.495 0.549 0.578 0.608 0.637 0.667 0.681 0.695 0.710 0.724 0.739 0.753 0.766 0.779 0.792 0.805 0.818 0.831 0.849 0.866 0.884 0.901 0.924 0.952 0.980"/><feFuncB type="table" tableValues="0.000 0.000 0.000 0.000 0.000 0.000 0.000 0.000 0.000 0.000 0.000 0.000 0.000 0.000 0.000 0.009 0.019 0.028 0.038 0.047 0.060 0.073 0.085 0.098 0.130 0.163 0.195 0.227 0.249 0.271 0.292 0.314 0.328 0.342 0.357 0.371 0.386 0.400 0.422 0.443 0.465 0.486 0.508 0.529 0.569 0.608 0.647 0.686 0.744 0.819 0.894"/><feFuncA type="linear" slope="0" intercept="1"/></feComponentTransfer></filter>
</defs>
<g clip-path="url(#clipA)"><g filter="url(#texAm)">
<rect x="-20" y="0" width="520" height="520" fill="rgb(140,140,140)"/>
<g>
<ellipse cx="185" cy="50" rx="60" ry="10" transform="rotate(8 185 50)" fill="rgb(76,76,76)"/>
<ellipse cx="90" cy="26" rx="22" ry="5" transform="rotate(0 90 26)" fill="rgb(89,89,89)"/>
<ellipse cx="222" cy="36" rx="14" ry="4" transform="rotate(0 222 36)" fill="rgb(89,89,89)"/>
<ellipse cx="133" cy="76" rx="9" ry="8" transform="rotate(0 133 76)" fill="rgb(242,242,242)"/>
<ellipse cx="100" cy="101" rx="10" ry="6" transform="rotate(0 100 101)" fill="rgb(230,230,230)"/>
<ellipse cx="262" cy="50" rx="20" ry="6" transform="rotate(0 262 50)" fill="rgb(199,199,199)"/>
<ellipse cx="140" cy="131" rx="14" ry="5" transform="rotate(10 140 131)" fill="rgb(204,204,204)"/>
<ellipse cx="210" cy="108" rx="24" ry="5" transform="rotate(10 210 108)" fill="rgb(191,191,191)"/>
<ellipse cx="60" cy="118" rx="30" ry="8" transform="rotate(15 60 118)" fill="rgb(178,178,178)"/>
<ellipse cx="70" cy="196" rx="50" ry="5" transform="rotate(10 70 196)" fill="rgb(199,199,199)"/>
<ellipse cx="239" cy="233" rx="30" ry="10" transform="rotate(20 239 233)" fill="rgb(184,184,184)"/>
<ellipse cx="99" cy="321" rx="42" ry="6" transform="rotate(5 99 321)" fill="rgb(242,242,242)"/>
<ellipse cx="27" cy="349" rx="22" ry="11" transform="rotate(0 27 349)" fill="rgb(235,235,235)"/>
<ellipse cx="62" cy="384" rx="16" ry="17" transform="rotate(0 62 384)" fill="rgb(230,230,230)"/>
<ellipse cx="20" cy="296" rx="9" ry="5" transform="rotate(0 20 296)" fill="rgb(217,217,217)"/>
<ellipse cx="158" cy="390" rx="18" ry="10" transform="rotate(0 158 390)" fill="rgb(224,224,224)"/>
<ellipse cx="284" cy="427" rx="16" ry="9" transform="rotate(0 284 427)" fill="rgb(230,230,230)"/>
<ellipse cx="151" cy="451" rx="12" ry="9" transform="rotate(0 151 451)" fill="rgb(217,217,217)"/>
<ellipse cx="109" cy="473" rx="21" ry="10" transform="rotate(0 109 473)" fill="rgb(217,217,217)"/>
<ellipse cx="365" cy="293" rx="16" ry="8" transform="rotate(0 365 293)" fill="rgb(230,230,230)"/>
<ellipse cx="374" cy="405" rx="13" ry="11" transform="rotate(0 374 405)" fill="rgb(235,235,235)"/>
<ellipse cx="429" cy="423" rx="10" ry="6" transform="rotate(0 429 423)" fill="rgb(230,230,230)"/>
<ellipse cx="328" cy="236" rx="8" ry="6" transform="rotate(0 328 236)" fill="rgb(230,230,230)"/>
<ellipse cx="114" cy="350" rx="72" ry="12" transform="rotate(5 114 350)" fill="rgb(89,89,89)"/>
<ellipse cx="160" cy="180" rx="30" ry="8" transform="rotate(20 160 180)" fill="rgb(115,115,115)"/>
<ellipse cx="405" cy="402" rx="15" ry="9" transform="rotate(0 405 402)" fill="rgb(38,38,38)"/>
<ellipse cx="294" cy="426" rx="10" ry="6" transform="rotate(0 294 426)" fill="rgb(51,51,51)"/>
<ellipse cx="414" cy="464" rx="15" ry="6" transform="rotate(0 414 464)" fill="rgb(38,38,38)"/>
<ellipse cx="260" cy="293" rx="12" ry="8" transform="rotate(0 260 293)" fill="rgb(51,51,51)"/>
<ellipse cx="430" cy="300" rx="40" ry="25" transform="rotate(0 430 300)" fill="rgb(153,153,153)"/>
<ellipse cx="430" cy="230" rx="40" ry="20" transform="rotate(0 430 230)" fill="rgb(153,153,153)"/>
<ellipse cx="330" cy="460" rx="40" ry="15" transform="rotate(0 330 460)" fill="rgb(168,168,168)"/>
<ellipse cx="40" cy="440" rx="30" ry="20" transform="rotate(0 40 440)" fill="rgb(128,128,128)"/>
<ellipse cx="200" cy="200" rx="60" ry="20" transform="rotate(20 200 200)" fill="rgb(133,133,133)"/>
<ellipse cx="380" cy="340" rx="40" ry="30" transform="rotate(0 380 340)" fill="rgb(140,140,140)"/>
<ellipse cx="175" cy="50" rx="115" ry="14" transform="rotate(8 175 50)" fill="rgb(107,107,107)"/>
<ellipse cx="25" cy="430" rx="20" ry="10" transform="rotate(0 25 430)" fill="rgb(224,224,224)"/>
<ellipse cx="200" cy="470" rx="25" ry="10" transform="rotate(0 200 470)" fill="rgb(217,217,217)"/>
<ellipse cx="130" cy="420" rx="15" ry="8" transform="rotate(0 130 420)" fill="rgb(224,224,224)"/>
<ellipse cx="70" cy="400" rx="15" ry="8" transform="rotate(0 70 400)" fill="rgb(56,56,56)"/>
<ellipse cx="100" cy="445" rx="12" ry="6" transform="rotate(0 100 445)" fill="rgb(56,56,56)"/>
<ellipse cx="230" cy="395" rx="15" ry="8" transform="rotate(0 230 395)" fill="rgb(56,56,56)"/>
<ellipse cx="420" cy="262" rx="45" ry="55" transform="rotate(0 420 262)" fill="rgb(161,161,161)"/>
<ellipse cx="118" cy="100" rx="22" ry="5" transform="rotate(8 118 100)" fill="rgb(217,217,217)"/>
<ellipse cx="124" cy="131" rx="17" ry="6" transform="rotate(8 124 131)" fill="rgb(209,209,209)"/>
<ellipse cx="140" cy="240" rx="110" ry="6" transform="rotate(24 140 240)" fill="rgb(184,184,184)"/>
<ellipse cx="50" cy="200" rx="40" ry="6" transform="rotate(12 50 200)" fill="rgb(194,194,194)"/>
<ellipse cx="161" cy="197" rx="20" ry="5" transform="rotate(15 161 197)" fill="rgb(51,51,51)"/>
<ellipse cx="55" cy="158" rx="12" ry="5" transform="rotate(20 55 158)" fill="rgb(51,51,51)"/>
<ellipse cx="212" cy="107" rx="10" ry="3" transform="rotate(10 212 107)" fill="rgb(51,51,51)"/>
</g>
<circle cx="88.5" cy="122.0" r="5.9" fill="rgb(230,230,230)"/><circle cx="88.5" cy="122.0" r="3.9" fill="rgb(0,0,0)"/>
<circle cx="89.7" cy="132.6" r="6.1" fill="rgb(230,230,230)"/><circle cx="89.7" cy="132.6" r="4.1" fill="rgb(0,0,0)"/>
<circle cx="92.0" cy="140.8" r="6.2" fill="rgb(230,230,230)"/><circle cx="92.0" cy="140.8" r="4.2" fill="rgb(0,0,0)"/>
<circle cx="44.3" cy="168.7" r="6.3" fill="rgb(230,230,230)"/><circle cx="44.3" cy="168.7" r="4.3" fill="rgb(0,0,0)"/>
<circle cx="55.9" cy="175.7" r="6.1" fill="rgb(230,230,230)"/><circle cx="55.9" cy="175.7" r="4.1" fill="rgb(0,0,0)"/>
<circle cx="81.5" cy="189.7" r="6.3" fill="rgb(230,230,230)"/><circle cx="81.5" cy="189.7" r="4.3" fill="rgb(0,0,0)"/>
<circle cx="97.8" cy="199.0" r="5.2" fill="rgb(230,230,230)"/><circle cx="97.8" cy="199.0" r="3.2" fill="rgb(0,0,0)"/>
<circle cx="108.3" cy="207.2" r="5.8" fill="rgb(230,230,230)"/><circle cx="108.3" cy="207.2" r="3.8" fill="rgb(0,0,0)"/>
<circle cx="134.0" cy="220.0" r="6.3" fill="rgb(230,230,230)"/><circle cx="134.0" cy="220.0" r="4.3" fill="rgb(0,0,0)"/>
<circle cx="149.0" cy="229.3" r="6.0" fill="rgb(230,230,230)"/><circle cx="149.0" cy="229.3" r="4.0" fill="rgb(0,0,0)"/>
<circle cx="163.0" cy="238.6" r="6.3" fill="rgb(230,230,230)"/><circle cx="163.0" cy="238.6" r="4.3" fill="rgb(0,0,0)"/>
<circle cx="177.0" cy="248.0" r="5.3" fill="rgb(230,230,230)"/><circle cx="177.0" cy="248.0" r="3.3" fill="rgb(0,0,0)"/>
<circle cx="193.0" cy="252.0" r="5.8" fill="rgb(230,230,230)"/><circle cx="193.0" cy="252.0" r="3.8" fill="rgb(0,0,0)"/>
<circle cx="205.0" cy="262.0" r="5.5" fill="rgb(230,230,230)"/><circle cx="205.0" cy="262.0" r="3.5" fill="rgb(0,0,0)"/>
<circle cx="214.0" cy="270.0" r="5.9" fill="rgb(230,230,230)"/><circle cx="214.0" cy="270.0" r="3.9" fill="rgb(0,0,0)"/>
<circle cx="226.0" cy="276.0" r="5.9" fill="rgb(230,230,230)"/><circle cx="226.0" cy="276.0" r="3.9" fill="rgb(0,0,0)"/>
<circle cx="235.0" cy="282.0" r="5.2" fill="rgb(230,230,230)"/><circle cx="235.0" cy="282.0" r="3.2" fill="rgb(0,0,0)"/>
<circle cx="161.0" cy="72.0" r="5.5" fill="rgb(230,230,230)"/><circle cx="161.0" cy="72.0" r="3.5" fill="rgb(0,0,0)"/>
<circle cx="107.0" cy="84.0" r="5.5" fill="rgb(230,230,230)"/><circle cx="107.0" cy="84.0" r="3.5" fill="rgb(0,0,0)"/>
<circle cx="205.0" cy="106.0" r="6.3" fill="rgb(230,230,230)"/><circle cx="205.0" cy="106.0" r="4.3" fill="rgb(0,0,0)"/>
<circle cx="147.0" cy="129.0" r="6.1" fill="rgb(230,230,230)"/><circle cx="147.0" cy="129.0" r="4.1" fill="rgb(0,0,0)"/>
<circle cx="168.0" cy="127.0" r="5.4" fill="rgb(230,230,230)"/><circle cx="168.0" cy="127.0" r="3.4" fill="rgb(0,0,0)"/>
<circle cx="268.0" cy="300.0" r="6.2" fill="rgb(230,230,230)"/><circle cx="268.0" cy="300.0" r="4.2" fill="rgb(0,0,0)"/>
<circle cx="280.0" cy="310.0" r="5.4" fill="rgb(230,230,230)"/><circle cx="280.0" cy="310.0" r="3.4" fill="rgb(0,0,0)"/>
<circle cx="300.0" cy="325.0" r="5.9" fill="rgb(230,230,230)"/><circle cx="300.0" cy="325.0" r="3.9" fill="rgb(0,0,0)"/>
<circle cx="318.0" cy="335.0" r="5.4" fill="rgb(230,230,230)"/><circle cx="318.0" cy="335.0" r="3.4" fill="rgb(0,0,0)"/>
<circle cx="332.0" cy="350.0" r="5.2" fill="rgb(230,230,230)"/><circle cx="332.0" cy="350.0" r="3.2" fill="rgb(0,0,0)"/>
<circle cx="344.0" cy="365.0" r="6.2" fill="rgb(230,230,230)"/><circle cx="344.0" cy="365.0" r="4.2" fill="rgb(0,0,0)"/>
<circle cx="356.0" cy="378.0" r="5.5" fill="rgb(230,230,230)"/><circle cx="356.0" cy="378.0" r="3.5" fill="rgb(0,0,0)"/>
<circle cx="377.0" cy="391.0" r="5.5" fill="rgb(230,230,230)"/><circle cx="377.0" cy="391.0" r="3.5" fill="rgb(0,0,0)"/>
<circle cx="389.0" cy="392.0" r="6.4" fill="rgb(230,230,230)"/><circle cx="389.0" cy="392.0" r="4.4" fill="rgb(0,0,0)"/>
<circle cx="452.0" cy="362.0" r="6.2" fill="rgb(230,230,230)"/><circle cx="452.0" cy="362.0" r="4.2" fill="rgb(0,0,0)"/>
<circle cx="455.0" cy="375.0" r="5.5" fill="rgb(230,230,230)"/><circle cx="455.0" cy="375.0" r="3.5" fill="rgb(0,0,0)"/>
<circle cx="458.0" cy="388.0" r="6.4" fill="rgb(230,230,230)"/><circle cx="458.0" cy="388.0" r="4.4" fill="rgb(0,0,0)"/>
<circle cx="461.0" cy="400.0" r="5.8" fill="rgb(230,230,230)"/><circle cx="461.0" cy="400.0" r="3.8" fill="rgb(0,0,0)"/>
<circle cx="440.0" cy="430.0" r="6.0" fill="rgb(230,230,230)"/><circle cx="440.0" cy="430.0" r="4.0" fill="rgb(0,0,0)"/>
<circle cx="452.0" cy="440.0" r="5.4" fill="rgb(230,230,230)"/><circle cx="452.0" cy="440.0" r="3.4" fill="rgb(0,0,0)"/>
<circle cx="462.0" cy="446.0" r="6.3" fill="rgb(230,230,230)"/><circle cx="462.0" cy="446.0" r="4.3" fill="rgb(0,0,0)"/>
</g></g>
<defs><filter id="dotb" x="-50%" y="-50%" width="200%" height="200%"><feGaussianBlur stdDeviation="0.7"/></filter></defs>
<g filter="url(#dotb)" clip-path="url(#clipA)">
<circle cx="44.2" cy="168.9" r="3" fill="#1a0400" stroke="#f6dca8" stroke-width="1.3"/>
<circle cx="56" cy="175.5" r="3" fill="#1a0400" stroke="#f6dca8" stroke-width="1.3"/>
<circle cx="82" cy="189.8" r="3.2" fill="#1a0400" stroke="#f6dca8" stroke-width="1.3"/>
<circle cx="97.2" cy="198.7" r="3" fill="#1a0400" stroke="#f6dca8" stroke-width="1.3"/>
<circle cx="107.3" cy="207.5" r="3" fill="#1a0400" stroke="#f6dca8" stroke-width="1.3"/>
<circle cx="133.8" cy="218.9" r="4.5" fill="#1a0400" stroke="#f6dca8" stroke-width="1.3"/>
<circle cx="151.5" cy="231.5" r="3.2" fill="#1a0400" stroke="#f6dca8" stroke-width="1.3"/>
<circle cx="157.8" cy="237.8" r="2.5" fill="#1a0400" stroke="#f6dca8" stroke-width="1.3"/>
<circle cx="176.8" cy="249.7" r="3" fill="#1a0400" stroke="#f6dca8" stroke-width="1.3"/>
<circle cx="183" cy="251.7" r="2.5" fill="#1a0400" stroke="#f6dca8" stroke-width="1.3"/>
<circle cx="199.5" cy="254.2" r="4.5" fill="#1a0400" stroke="#f6dca8" stroke-width="1.3"/>
<circle cx="209.6" cy="265.6" r="3" fill="#1a0400" stroke="#f6dca8" stroke-width="1.3"/>
<circle cx="222.2" cy="275.7" r="3" fill="#1a0400" stroke="#f6dca8" stroke-width="1.3"/>
<circle cx="227.3" cy="279.5" r="2.5" fill="#1a0400" stroke="#f6dca8" stroke-width="1.3"/>
<circle cx="232.3" cy="284.5" r="2.5" fill="#1a0400" stroke="#f6dca8" stroke-width="1.3"/>
<circle cx="88.4" cy="122.9" r="3" fill="#1a0400" stroke="#f6dca8" stroke-width="1.3"/>
<circle cx="89.6" cy="133" r="3" fill="#1a0400" stroke="#f6dca8" stroke-width="1.3"/>
<circle cx="90.9" cy="140.6" r="3" fill="#1a0400" stroke="#f6dca8" stroke-width="1.3"/>
<circle cx="107.3" cy="83.8" r="3.2" fill="#1a0400" stroke="#f6dca8" stroke-width="1.3"/>
<circle cx="108.6" cy="97.7" r="2.5" fill="#1a0400" stroke="#f6dca8" stroke-width="1.3"/>
<circle cx="161.6" cy="162" r="3" fill="#1a0400" stroke="#f6dca8" stroke-width="1.3"/>
<circle cx="171.7" cy="186" r="2.5" fill="#1a0400" stroke="#f6dca8" stroke-width="1.3"/>
<circle cx="138" cy="153" r="2.2" fill="#1a0400" stroke="#f6dca8" stroke-width="1.3"/>
<circle cx="224.7" cy="254.2" r="2.5" fill="#1a0400" stroke="#f6dca8" stroke-width="1.3"/>
<circle cx="223.5" cy="235.3" r="2.2" fill="#1a0400" stroke="#f6dca8" stroke-width="1.3"/>
<circle cx="268" cy="300" r="3" fill="#1a0400" stroke="#f6dca8" stroke-width="1.3"/>
<circle cx="283" cy="312" r="3.2" fill="#1a0400" stroke="#f6dca8" stroke-width="1.3"/>
<circle cx="300" cy="325" r="3" fill="#1a0400" stroke="#f6dca8" stroke-width="1.3"/>
<circle cx="318" cy="335" r="3.5" fill="#1a0400" stroke="#f6dca8" stroke-width="1.3"/>
<circle cx="332" cy="350" r="3" fill="#1a0400" stroke="#f6dca8" stroke-width="1.3"/>
<circle cx="344" cy="365" r="3" fill="#1a0400" stroke="#f6dca8" stroke-width="1.3"/>
<circle cx="356" cy="378" r="3" fill="#1a0400" stroke="#f6dca8" stroke-width="1.3"/>
<circle cx="440" cy="430" r="3" fill="#1a0400" stroke="#f6dca8" stroke-width="1.3"/>
<circle cx="452" cy="440" r="3" fill="#1a0400" stroke="#f6dca8" stroke-width="1.3"/>
<circle cx="462" cy="446" r="2.5" fill="#1a0400" stroke="#f6dca8" stroke-width="1.3"/>
<circle cx="452" cy="362" r="2.5" fill="#1a0400" stroke="#f6dca8" stroke-width="1.3"/>
<circle cx="455" cy="375" r="2.5" fill="#1a0400" stroke="#f6dca8" stroke-width="1.3"/>
<circle cx="458" cy="388" r="3" fill="#1a0400" stroke="#f6dca8" stroke-width="1.3"/>
</g>
<defs><filter id="texAi" filterUnits="userSpaceOnUse" x="290" y="19" width="183" height="182" color-interpolation-filters="sRGB"><feTurbulence type="fractalNoise" baseFrequency="0.04" numOctaves="2" seed="9" result="n1"/><feColorMatrix in="n1" type="matrix" values="1 0 0 0 0 1 0 0 0 0 1 0 0 0 0 0 0 0 0 1" result="g1"/><feTurbulence type="fractalNoise" baseFrequency="0.003 0.45" numOctaves="2" seed="4" result="n2"/><feColorMatrix in="n2" type="matrix" values="0 1 0 0 0 0 1 0 0 0 0 1 0 0 0 0 0 0 0 1" result="g2"/><feGaussianBlur in="SourceGraphic" stdDeviation="1.5" result="base0"/><feOffset in="base0" dx="0" dy="0" result="base"/><feComposite in="g1" in2="base" operator="arithmetic" k1="0" k2="1.6" k3="1" k4="-0.8" result="h1"/><feComposite in="g2" in2="h1" operator="arithmetic" k1="0" k2="0.12" k3="1" k4="-0.06" result="h"/><feComponentTransfer in="h"><feFuncR type="table" tableValues="0.000 0.031 0.063 0.094 0.125 0.157 0.188 0.220 0.253 0.290 0.326 0.362 0.398 0.434 0.471 0.508 0.546 0.584 0.621 0.659 0.680 0.702 0.724 0.745 0.776 0.808 0.839 0.871 0.884 0.898 0.912 0.925 0.930 0.935 0.939 0.944 0.948 0.953 0.956 0.959 0.963 0.966 0.969 0.973 0.976 0.980 0.983 0.986 0.991 0.995 1.000"/><feFuncG type="table" tableValues="0.000 0.003 0.005 0.008 0.010 0.013 0.016 0.018 0.026 0.038 0.050 0.062 0.074 0.086 0.098 0.122 0.145 0.169 0.192 0.216 0.245 0.275 0.304 0.333 0.387 0.441 0.495 0.549 0.578 0.608 0.637 0.667 0.681 0.695 0.710 0.724 0.739 0.753 0.766 0.779 0.792 0.805 0.818 0.831 0.849 0.866 0.884 0.901 0.924 0.952 0.980"/><feFuncB type="table" tableValues="0.000 0.000 0.000 0.000 0.000 0.000 0.000 0.000 0.000 0.000 0.000 0.000 0.000 0.000 0.000 0.009 0.019 0.028 0.038 0.047 0.060 0.073 0.085 0.098 0.130 0.163 0.195 0.227 0.249 0.271 0.292 0.314 0.328 0.342 0.357 0.371 0.386 0.400 0.422 0.443 0.465 0.486 0.508 0.529 0.569 0.608 0.647 0.686 0.744 0.819 0.894"/><feFuncA type="linear" slope="0" intercept="1"/></feComponentTransfer></filter><clipPath id="clipAi"><rect x="291.5" y="20.5" width="180" height="179"/></clipPath></defs>
<g clip-path="url(#clipAi)"><g filter="url(#texAi)">
<rect x="270" y="0" width="230" height="230" fill="rgb(138,138,138)"/>
<g filter="url(#bb8a)">
<ellipse cx="298" cy="52" rx="6" ry="12" fill="rgb(242,242,242)"/>
<ellipse cx="374" cy="136" rx="14" ry="8" fill="rgb(230,230,230)"/>
<ellipse cx="452" cy="172" rx="10" ry="8" fill="rgb(209,209,209)"/>
<ellipse cx="325" cy="30" rx="20" ry="8" fill="rgb(204,204,204)"/>
<ellipse cx="440" cy="45" rx="20" ry="12" fill="rgb(199,199,199)"/>
<ellipse cx="374" cy="28" rx="10" ry="7" fill="rgb(64,64,64)"/>
<ellipse cx="300" cy="110" rx="10" ry="15" fill="rgb(128,128,128)"/>
<ellipse cx="340" cy="140" rx="12" ry="12" fill="rgb(115,115,115)"/>
<ellipse cx="420" cy="190" rx="20" ry="8" fill="rgb(115,115,115)"/>
<ellipse cx="330" cy="195" rx="15" ry="5" fill="rgb(128,128,128)"/>
<ellipse cx="460" cy="100" rx="10" ry="15" fill="rgb(128,128,128)"/>
</g>
<circle cx="305.3" cy="59.8" r="6.0" fill="rgb(204,204,204)"/><circle cx="305.3" cy="59.8" r="4.5" fill="rgb(0,0,0)"/>
<circle cx="335.5" cy="79.9" r="6.5" fill="rgb(204,204,204)"/><circle cx="335.5" cy="79.9" r="5" fill="rgb(0,0,0)"/>
<circle cx="350" cy="85.4" r="4.5" fill="rgb(204,204,204)"/><circle cx="350" cy="85.4" r="3" fill="rgb(0,0,0)"/>
<circle cx="361" cy="94.5" r="5.0" fill="rgb(204,204,204)"/><circle cx="361" cy="94.5" r="3.5" fill="rgb(0,0,0)"/>
<circle cx="372.9" cy="100" r="5.5" fill="rgb(204,204,204)"/><circle cx="372.9" cy="100" r="4" fill="rgb(0,0,0)"/>
<circle cx="395.7" cy="116.4" r="5.5" fill="rgb(204,204,204)"/><circle cx="395.7" cy="116.4" r="4" fill="rgb(0,0,0)"/>
<circle cx="406.6" cy="125.5" r="7.5" fill="rgb(204,204,204)"/><circle cx="406.6" cy="125.5" r="6" fill="rgb(0,0,0)"/>
<circle cx="421.2" cy="134.6" r="5.5" fill="rgb(204,204,204)"/><circle cx="421.2" cy="134.6" r="4" fill="rgb(0,0,0)"/>
<circle cx="437.7" cy="143.8" r="6.0" fill="rgb(204,204,204)"/><circle cx="437.7" cy="143.8" r="4.5" fill="rgb(0,0,0)"/>
<circle cx="448.6" cy="154.7" r="5.5" fill="rgb(204,204,204)"/><circle cx="448.6" cy="154.7" r="4" fill="rgb(0,0,0)"/>
<circle cx="464.1" cy="140.1" r="5.5" fill="rgb(204,204,204)"/><circle cx="464.1" cy="140.1" r="4" fill="rgb(0,0,0)"/>
<circle cx="466.9" cy="169.3" r="6.0" fill="rgb(204,204,204)"/><circle cx="466.9" cy="169.3" r="4.5" fill="rgb(0,0,0)"/>
<circle cx="397.5" cy="32.4" r="6.0" fill="rgb(204,204,204)"/><circle cx="397.5" cy="32.4" r="4.5" fill="rgb(0,0,0)"/>
<circle cx="448.6" cy="56.2" r="6.0" fill="rgb(204,204,204)"/><circle cx="448.6" cy="56.2" r="4.5" fill="rgb(0,0,0)"/>
<circle cx="439.5" cy="68.9" r="5.5" fill="rgb(204,204,204)"/><circle cx="439.5" cy="68.9" r="4" fill="rgb(0,0,0)"/>
<circle cx="299" cy="87.2" r="6.0" fill="rgb(204,204,204)"/><circle cx="299" cy="87.2" r="4.5" fill="rgb(0,0,0)"/>
<circle cx="320" cy="189.4" r="6.0" fill="rgb(204,204,204)"/><circle cx="320" cy="189.4" r="4.5" fill="rgb(0,0,0)"/>
</g></g>
<rect x="291.5" y="20.5" width="181" height="179.5" fill="none" stroke="#000" stroke-width="3"/>
<rect x="245" y="268.8" width="113.5" height="113.5" fill="none" stroke="#000" stroke-width="2.5"/>
<path d="M244.5,268.5L291.5,20M359,382L472.5,200.5" stroke="#000" stroke-width="2.6" fill="none"/>
<rect x="365.5" y="92.3" width="37.5" height="37" fill="none" stroke="#1010e0" stroke-width="2.2"/>
<line x1="5" y1="97.5" x2="275" y2="139.4" stroke="#6a8a30" stroke-width="0.8"/>
<line x1="5" y1="97.5" x2="275" y2="139.4" stroke="#00f0ff" stroke-width="3" stroke-dasharray="15,15"/>
<line x1="5" y1="196" x2="88" y2="212.6" stroke="#6a8a30" stroke-width="0.8"/>
<line x1="5" y1="196" x2="88" y2="212.6" stroke="#00f0ff" stroke-width="3" stroke-dasharray="15,15"/>
<line x1="7" y1="314" x2="88" y2="329.7" stroke="#6a8a30" stroke-width="0.8"/>
<line x1="7" y1="314" x2="88" y2="329.7" stroke="#00f0ff" stroke-width="3" stroke-dasharray="15,15"/>
<line x1="7" y1="142.7" x2="30.8" y2="158.2" stroke="#1414d8" stroke-width="3.2"/>
<polygon points="45,167.5 23.9,165.1 32.4,159.3 34.3,149.2" fill="#1414d8"/>
<line x1="197.4" y1="195" x2="213.8" y2="218.1" stroke="#10e8e8" stroke-width="3.2"/>
<polygon points="223.6,232 204.9,222.0 214.9,219.8 220.4,211.0" fill="#10e8e8"/>
<line x1="474" y1="444.8" x2="446.1" y2="425.5" stroke="#1414d8" stroke-width="3.2"/>
<polygon points="431.3,415.3 453.4,418.4 444.5,424.4 442.1,434.9" fill="#1414d8"/>
<path d="M25.3,406.7V451.2M116.6,406.7V451.2M25.3,429.6H116.6" stroke="#000" stroke-width="5" fill="none"/>
<text x="70.4" y="461.7" font-family="Liberation Sans, sans-serif" font-size="33" font-weight="bold" fill="#000" text-anchor="middle" textLength="84.8" lengthAdjust="spacingAndGlyphs">40nm</text>
<rect x="5" y="19" width="62.5" height="63.0" fill="#999999"/>
<text x="34.75" y="65.3" font-family="Liberation Sans, sans-serif" font-weight="bold" font-size="60" fill="#ffffff" text-anchor="middle" transform="translate(34.75 65.3) scale(0.9 1) translate(-34.75 -65.3)">a</text>
<defs><filter id="texB" filterUnits="userSpaceOnUse" x="468.5" y="5.5" width="495.0" height="495.0" color-interpolation-filters="sRGB"><feTurbulence type="fractalNoise" baseFrequency="0.12 0.14" numOctaves="2" seed="21" result="n1"/><feColorMatrix in="n1" type="matrix" values="1 0 0 0 0 1 0 0 0 0 1 0 0 0 0 0 0 0 0 1" result="g1"/><feTurbulence type="fractalNoise" baseFrequency="0.003 0.45" numOctaves="2" seed="8" result="n2"/><feColorMatrix in="n2" type="matrix" values="0 1 0 0 0 0 1 0 0 0 0 1 0 0 0 0 0 0 0 1" result="g2"/><feGaussianBlur in="SourceGraphic" stdDeviation="2.0" result="base0"/><feTurbulence type="fractalNoise" baseFrequency="0.004 0.25" numOctaves="2" seed="15" result="nd"/><feColorMatrix in="nd" type="matrix" values="1 0 0 0 0 0 0 0 0 0.5 0 0 0 0 0 0 0 0 0 1" result="dm"/><feDisplacementMap in="base0" in2="dm" scale="22" xChannelSelector="R" yChannelSelector="G" result="base"/><feComposite in="g1" in2="base" operator="arithmetic" k1="0" k2="0.25" k3="1" k4="-0.125" result="h1"/><feComposite in="g2" in2="h1" operator="arithmetic" k1="0" k2="0.22" k3="1" k4="-0.11" result="h"/><feComponentTransfer in="h"><feFuncR type="table" tableValues="0.000 0.036 0.072 0.108 0.144 0.180 0.216 0.255 0.294 0.333 0.373 0.412 0.451 0.487 0.520 0.554 0.587 0.620 0.653 0.686 0.708 0.729 0.751 0.773 0.794 0.816 0.829 0.842 0.856 0.869 0.882 0.891 0.900 0.908 0.917 0.925 0.931 0.936 0.942 0.947 0.953 0.958 0.962 0.967 0.972 0.976 0.982 0.987 0.992 0.996 1.000"/><feFuncG type="table" tableValues="0.000 0.000 0.000 0.000 0.000 0.000 0.000 0.011 0.022 0.033 0.043 0.054 0.065 0.082 0.104 0.126 0.149 0.171 0.193 0.216 0.248 0.281 0.314 0.346 0.379 0.412 0.438 0.464 0.489 0.515 0.541 0.562 0.584 0.605 0.626 0.647 0.667 0.686 0.706 0.725 0.745 0.765 0.784 0.804 0.824 0.843 0.869 0.895 0.922 0.951 0.980"/><feFuncB type="table" tableValues="0.000 0.000 0.000 0.000 0.000 0.000 0.000 0.000 0.000 0.000 0.000 0.000 0.000 0.003 0.009 0.015 0.021 0.027 0.033 0.039 0.059 0.078 0.098 0.118 0.137 0.157 0.171 0.185 0.199 0.213 0.227 0.243 0.259 0.275 0.290 0.306 0.325 0.344 0.362 0.381 0.400 0.430 0.460 0.489 0.519 0.549 0.608 0.667 0.725 0.810 0.894"/><feFuncA type="linear" slope="0" intercept="1"/></feComponentTransfer></filter><clipPath id="clipB"><rect x="483.5" y="20.5" width="465.0" height="465.0"/></clipPath><filter id="bb14" x="-50%" y="-50%" width="200%" height="200%"><feGaussianBlur stdDeviation="14"/></filter><filter id="bb8" x="-50%" y="-50%" width="200%" height="200%"><feGaussianBlur stdDeviation="8"/></filter><filter id="bb4" x="-50%" y="-50%" width="200%" height="200%"><feGaussianBlur stdDeviation="4" /></filter><filter id="bbh" x="-50%" y="-50%" width="200%" height="200%"><feGaussianBlur stdDeviation="5 1"/></filter></defs>
<g clip-path="url(#clipB)"><g filter="url(#texB)">
<rect x="460" y="0" width="510" height="510" fill="rgb(135,135,135)"/>
<g filter="url(#bb14)">
<ellipse cx="760" cy="205" rx="200" ry="38" transform="rotate(0 760 205)" fill="rgb(153,153,153)"/>
<ellipse cx="680" cy="322" rx="130" ry="35" transform="rotate(0 680 322)" fill="rgb(110,110,110)"/>
<ellipse cx="620" cy="425" rx="150" ry="28" transform="rotate(0 620 425)" fill="rgb(158,158,158)"/>
<ellipse cx="560" cy="150" rx="70" ry="30" transform="rotate(0 560 150)" fill="rgb(120,120,120)"/>
<ellipse cx="700" cy="36" rx="150" ry="22" transform="rotate(0 700 36)" fill="rgb(173,173,173)"/>
<ellipse cx="900" cy="45" rx="60" ry="30" transform="rotate(0 900 45)" fill="rgb(112,112,112)"/>
<ellipse cx="930" cy="95" rx="30" ry="40" transform="rotate(0 930 95)" fill="rgb(184,184,184)"/>
<ellipse cx="670" cy="195" rx="45" ry="65" transform="rotate(-35 670 195)" fill="rgb(163,163,163)"/>
<ellipse cx="905" cy="215" rx="50" ry="45" transform="rotate(0 905 215)" fill="rgb(161,161,161)"/>
<ellipse cx="752" cy="205" rx="45" ry="42" transform="rotate(0 752 205)" fill="rgb(105,105,105)"/>
<ellipse cx="515" cy="195" rx="38" ry="32" transform="rotate(0 515 195)" fill="rgb(115,115,115)"/>
<ellipse cx="580" cy="250" rx="60" ry="25" transform="rotate(0 580 250)" fill="rgb(133,133,133)"/>
<ellipse cx="820" cy="250" rx="50" ry="25" transform="rotate(0 820 250)" fill="rgb(128,128,128)"/>
<ellipse cx="500" cy="325" rx="24" ry="52" transform="rotate(0 500 325)" fill="rgb(204,204,204)"/>
<ellipse cx="703" cy="390" rx="48" ry="36" transform="rotate(0 703 390)" fill="rgb(178,178,178)"/>
<ellipse cx="646" cy="318" rx="55" ry="42" transform="rotate(0 646 318)" fill="rgb(92,92,92)"/>
<ellipse cx="600" cy="440" rx="90" ry="30" transform="rotate(0 600 440)" fill="rgb(128,128,128)"/>
<ellipse cx="520" cy="470" rx="60" ry="20" transform="rotate(0 520 470)" fill="rgb(128,128,128)"/>
<ellipse cx="860" cy="465" rx="100" ry="20" transform="rotate(0 860 465)" fill="rgb(133,133,133)"/>
<ellipse cx="760" cy="455" rx="50" ry="25" transform="rotate(0 760 455)" fill="rgb(145,145,145)"/>
<ellipse cx="640" cy="105" rx="38" ry="50" transform="rotate(0 640 105)" fill="rgb(82,82,82)"/>
<ellipse cx="800" cy="300" rx="35" ry="30" transform="rotate(0 800 300)" fill="rgb(92,92,92)"/>
<ellipse cx="845" cy="400" rx="70" ry="30" transform="rotate(0 845 400)" fill="rgb(71,71,71)"/>
</g>
<g filter="url(#bb8)">
<ellipse cx="815" cy="112" rx="60" ry="24" transform="rotate(-28 815 112)" fill="rgb(71,71,71)"/>
<ellipse cx="641" cy="335" rx="30" ry="20" fill="rgb(76,76,76)"/>
<ellipse cx="628" cy="112" rx="20" ry="38" fill="rgb(46,46,46)"/>
<ellipse cx="845" cy="395" rx="55" ry="22" fill="rgb(51,51,51)"/>
<ellipse cx="930" cy="390" rx="18" ry="45" fill="rgb(230,230,230)"/>
</g>
<g filter="url(#bb4)">
<ellipse cx="818" cy="108" rx="42" ry="13" transform="rotate(-28 818 108)" fill="rgb(26,26,26)"/>
<polygon points="612,66 645,78 655,120 645,145 612,150 604,120" fill="rgb(10,10,10)"/>
<polygon points="483,82 540,82 545,110 540,144 483,144" fill="rgb(13,13,13)"/>
<polygon points="546,18 600,18 596,45 585,60 548,62" fill="rgb(10,10,10)"/>
<polygon points="902,268 950,268 950,310 918,312 909,380 876,385 872,320 890,290" fill="rgb(5,5,5)"/>
<polygon points="915,345 950,330 950,440 925,425 910,390" fill="rgb(235,235,235)"/>
</g>
<g filter="url(#bbh)">
<polygon points="547.9,62.2 609.2,62.2 613.8,82.6 604.7,114.4 597.9,146.2 588.8,168.9 577.4,164.4 557.0,157.6 547.9,141.7 538.8,109.9 534.2,87.2" fill="rgb(255,255,255)"/>
<polygon points="843.3,280.3 875.1,271.2 893.3,284.8 888.7,316.6 875.1,339.4 872.8,366.6 861.5,378.0 836.5,371.2 822.8,357.5 816.0,339.4 818.3,321.2 829.6,298.5" fill="rgb(255,255,255)"/>
</g>
</g></g>
<path d="M500.5,406.4V451.9M592,406.4V451.9M500.5,429.7H592" stroke="#000" stroke-width="5.5" fill="none"/>
<text x="546.7" y="461.6" font-family="Liberation Sans, sans-serif" font-size="33" font-weight="bold" fill="#000" text-anchor="middle" textLength="66" lengthAdjust="spacingAndGlyphs">2nm</text>
<rect x="483.5" y="20.5" width="465" height="465" fill="none" stroke="#0000ff" stroke-width="3"/>
<rect x="485.2" y="20.2" width="62.8" height="61.6" fill="#999999"/>
<text x="516.25" y="70.8" font-family="Liberation Sans, sans-serif" font-weight="bold" font-size="60" fill="#ffffff" text-anchor="middle">b</text>
</svg></body></html>
